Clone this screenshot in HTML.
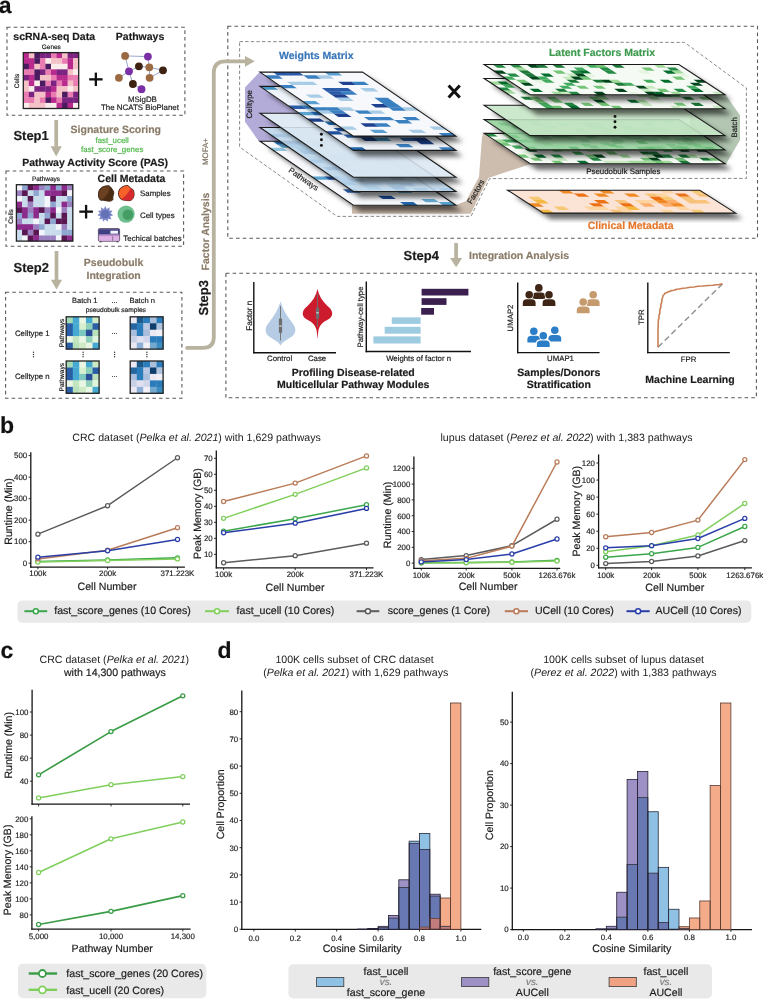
<!DOCTYPE html><html><head><meta charset="utf-8"><style>html,body{margin:0;padding:0;background:#fff;}svg{display:block;will-change:transform;text-rendering:geometricPrecision;}</style></head><body>
<svg width="766" height="999" viewBox="0 0 766 999" font-family='"Liberation Sans", sans-serif'>
<defs><filter id="sh" x="-10%" y="-10%" width="135%" height="150%"><feDropShadow dx="7" dy="6" stdDeviation="2.4" flood-color="#000" flood-opacity="0.6"/></filter><filter id="bl" x="-10%" y="-20%" width="120%" height="140%"><feGaussianBlur stdDeviation="2.4"/></filter></defs>
<rect x="0.00" y="0.00" width="766.00" height="999.00" fill="#ffffff"/>
<text x="-1.30" y="12.90" font-size="23" font-weight="bold" fill="#111" stroke="#111" stroke-width="0.18" text-anchor="start">a</text>
<text x="0.00" y="432.60" font-size="23" font-weight="bold" fill="#111" stroke="#111" stroke-width="0.18" text-anchor="start">b</text>
<text x="0.60" y="657.60" font-size="23" font-weight="bold" fill="#111" stroke="#111" stroke-width="0.18" text-anchor="start">c</text>
<text x="217.50" y="657.60" font-size="23" font-weight="bold" fill="#111" stroke="#111" stroke-width="0.18" text-anchor="start">d</text>
<rect x="7.00" y="27.30" width="177.90" height="88.00" fill="none" stroke="#5a5a5a" stroke-width="1.1" stroke-dasharray="3.6 3.1"/>
<text x="13.30" y="39.60" font-size="10.5" font-weight="bold" fill="#1c1a1a" stroke="#1c1a1a" stroke-width="0.18" text-anchor="start">scRNA-seq Data</text>
<text x="115.80" y="39.60" font-size="10.5" font-weight="bold" fill="#1c1a1a" stroke="#1c1a1a" stroke-width="0.18" text-anchor="start">Pathways</text>
<text x="51.30" y="49.00" font-size="6.5" fill="#1c1a1a" stroke="#1c1a1a" stroke-width="0.18" text-anchor="middle">Genes</text>
<text x="18.80" y="81.00" font-size="6.5" fill="#1c1a1a" stroke="#1c1a1a" stroke-width="0.18" text-anchor="middle" transform="rotate(-90 18.80 81.00)">Cells</text>
<rect x="23.30" y="52.60" width="5.84" height="5.89" fill="#b92a8e"/>
<rect x="28.84" y="52.60" width="5.84" height="5.89" fill="#f4c1c6"/>
<rect x="34.38" y="52.60" width="5.84" height="5.89" fill="#4a1b5f"/>
<rect x="39.92" y="52.60" width="5.84" height="5.89" fill="#7a2381"/>
<rect x="45.46" y="52.60" width="5.84" height="5.89" fill="#7a2381"/>
<rect x="51.00" y="52.60" width="5.84" height="5.89" fill="#e97cb0"/>
<rect x="56.54" y="52.60" width="5.84" height="5.89" fill="#b92a8e"/>
<rect x="62.08" y="52.60" width="5.84" height="5.89" fill="#f4c1c6"/>
<rect x="67.62" y="52.60" width="5.84" height="5.89" fill="#7a2381"/>
<rect x="73.16" y="52.60" width="5.84" height="5.89" fill="#7a2381"/>
<rect x="23.30" y="58.19" width="5.84" height="5.89" fill="#b92a8e"/>
<rect x="28.84" y="58.19" width="5.84" height="5.89" fill="#b92a8e"/>
<rect x="34.38" y="58.19" width="5.84" height="5.89" fill="#4a1b5f"/>
<rect x="39.92" y="58.19" width="5.84" height="5.89" fill="#e97cb0"/>
<rect x="45.46" y="58.19" width="5.84" height="5.89" fill="#fbecec"/>
<rect x="51.00" y="58.19" width="5.84" height="5.89" fill="#f4c1c6"/>
<rect x="56.54" y="58.19" width="5.84" height="5.89" fill="#f4c1c6"/>
<rect x="62.08" y="58.19" width="5.84" height="5.89" fill="#e97cb0"/>
<rect x="67.62" y="58.19" width="5.84" height="5.89" fill="#b92a8e"/>
<rect x="73.16" y="58.19" width="5.84" height="5.89" fill="#f4c1c6"/>
<rect x="23.30" y="63.78" width="5.84" height="5.89" fill="#4a1b5f"/>
<rect x="28.84" y="63.78" width="5.84" height="5.89" fill="#b92a8e"/>
<rect x="34.38" y="63.78" width="5.84" height="5.89" fill="#f4c1c6"/>
<rect x="39.92" y="63.78" width="5.84" height="5.89" fill="#e97cb0"/>
<rect x="45.46" y="63.78" width="5.84" height="5.89" fill="#4a1b5f"/>
<rect x="51.00" y="63.78" width="5.84" height="5.89" fill="#fbecec"/>
<rect x="56.54" y="63.78" width="5.84" height="5.89" fill="#fbecec"/>
<rect x="62.08" y="63.78" width="5.84" height="5.89" fill="#fbecec"/>
<rect x="67.62" y="63.78" width="5.84" height="5.89" fill="#b92a8e"/>
<rect x="73.16" y="63.78" width="5.84" height="5.89" fill="#f4c1c6"/>
<rect x="23.30" y="69.37" width="5.84" height="5.89" fill="#e97cb0"/>
<rect x="28.84" y="69.37" width="5.84" height="5.89" fill="#e97cb0"/>
<rect x="34.38" y="69.37" width="5.84" height="5.89" fill="#4a1b5f"/>
<rect x="39.92" y="69.37" width="5.84" height="5.89" fill="#7a2381"/>
<rect x="45.46" y="69.37" width="5.84" height="5.89" fill="#e97cb0"/>
<rect x="51.00" y="69.37" width="5.84" height="5.89" fill="#b92a8e"/>
<rect x="56.54" y="69.37" width="5.84" height="5.89" fill="#7a2381"/>
<rect x="62.08" y="69.37" width="5.84" height="5.89" fill="#7a2381"/>
<rect x="67.62" y="69.37" width="5.84" height="5.89" fill="#f4c1c6"/>
<rect x="73.16" y="69.37" width="5.84" height="5.89" fill="#fbecec"/>
<rect x="23.30" y="74.96" width="5.84" height="5.89" fill="#7a2381"/>
<rect x="28.84" y="74.96" width="5.84" height="5.89" fill="#b92a8e"/>
<rect x="34.38" y="74.96" width="5.84" height="5.89" fill="#4a1b5f"/>
<rect x="39.92" y="74.96" width="5.84" height="5.89" fill="#f4c1c6"/>
<rect x="45.46" y="74.96" width="5.84" height="5.89" fill="#f4c1c6"/>
<rect x="51.00" y="74.96" width="5.84" height="5.89" fill="#e97cb0"/>
<rect x="56.54" y="74.96" width="5.84" height="5.89" fill="#b92a8e"/>
<rect x="62.08" y="74.96" width="5.84" height="5.89" fill="#b92a8e"/>
<rect x="67.62" y="74.96" width="5.84" height="5.89" fill="#e97cb0"/>
<rect x="73.16" y="74.96" width="5.84" height="5.89" fill="#e97cb0"/>
<rect x="23.30" y="80.55" width="5.84" height="5.89" fill="#f4c1c6"/>
<rect x="28.84" y="80.55" width="5.84" height="5.89" fill="#b92a8e"/>
<rect x="34.38" y="80.55" width="5.84" height="5.89" fill="#fbecec"/>
<rect x="39.92" y="80.55" width="5.84" height="5.89" fill="#4a1b5f"/>
<rect x="45.46" y="80.55" width="5.84" height="5.89" fill="#e97cb0"/>
<rect x="51.00" y="80.55" width="5.84" height="5.89" fill="#7a2381"/>
<rect x="56.54" y="80.55" width="5.84" height="5.89" fill="#e97cb0"/>
<rect x="62.08" y="80.55" width="5.84" height="5.89" fill="#b92a8e"/>
<rect x="67.62" y="80.55" width="5.84" height="5.89" fill="#f4c1c6"/>
<rect x="73.16" y="80.55" width="5.84" height="5.89" fill="#e97cb0"/>
<rect x="23.30" y="86.14" width="5.84" height="5.89" fill="#f4c1c6"/>
<rect x="28.84" y="86.14" width="5.84" height="5.89" fill="#fbecec"/>
<rect x="34.38" y="86.14" width="5.84" height="5.89" fill="#7a2381"/>
<rect x="39.92" y="86.14" width="5.84" height="5.89" fill="#7a2381"/>
<rect x="45.46" y="86.14" width="5.84" height="5.89" fill="#7a2381"/>
<rect x="51.00" y="86.14" width="5.84" height="5.89" fill="#b92a8e"/>
<rect x="56.54" y="86.14" width="5.84" height="5.89" fill="#f4c1c6"/>
<rect x="62.08" y="86.14" width="5.84" height="5.89" fill="#f4c1c6"/>
<rect x="67.62" y="86.14" width="5.84" height="5.89" fill="#fbecec"/>
<rect x="73.16" y="86.14" width="5.84" height="5.89" fill="#f4c1c6"/>
<rect x="23.30" y="91.73" width="5.84" height="5.89" fill="#e97cb0"/>
<rect x="28.84" y="91.73" width="5.84" height="5.89" fill="#7a2381"/>
<rect x="34.38" y="91.73" width="5.84" height="5.89" fill="#f4c1c6"/>
<rect x="39.92" y="91.73" width="5.84" height="5.89" fill="#f4c1c6"/>
<rect x="45.46" y="91.73" width="5.84" height="5.89" fill="#b92a8e"/>
<rect x="51.00" y="91.73" width="5.84" height="5.89" fill="#e97cb0"/>
<rect x="56.54" y="91.73" width="5.84" height="5.89" fill="#f4c1c6"/>
<rect x="62.08" y="91.73" width="5.84" height="5.89" fill="#4a1b5f"/>
<rect x="67.62" y="91.73" width="5.84" height="5.89" fill="#e97cb0"/>
<rect x="73.16" y="91.73" width="5.84" height="5.89" fill="#7a2381"/>
<rect x="23.30" y="97.32" width="5.84" height="5.89" fill="#e97cb0"/>
<rect x="28.84" y="97.32" width="5.84" height="5.89" fill="#e97cb0"/>
<rect x="34.38" y="97.32" width="5.84" height="5.89" fill="#f4c1c6"/>
<rect x="39.92" y="97.32" width="5.84" height="5.89" fill="#e97cb0"/>
<rect x="45.46" y="97.32" width="5.84" height="5.89" fill="#4a1b5f"/>
<rect x="51.00" y="97.32" width="5.84" height="5.89" fill="#b92a8e"/>
<rect x="56.54" y="97.32" width="5.84" height="5.89" fill="#e97cb0"/>
<rect x="62.08" y="97.32" width="5.84" height="5.89" fill="#7a2381"/>
<rect x="67.62" y="97.32" width="5.84" height="5.89" fill="#7a2381"/>
<rect x="73.16" y="97.32" width="5.84" height="5.89" fill="#7a2381"/>
<rect x="23.30" y="102.91" width="5.84" height="5.89" fill="#fbecec"/>
<rect x="28.84" y="102.91" width="5.84" height="5.89" fill="#f4c1c6"/>
<rect x="34.38" y="102.91" width="5.84" height="5.89" fill="#f4c1c6"/>
<rect x="39.92" y="102.91" width="5.84" height="5.89" fill="#f4c1c6"/>
<rect x="45.46" y="102.91" width="5.84" height="5.89" fill="#fbecec"/>
<rect x="51.00" y="102.91" width="5.84" height="5.89" fill="#fbecec"/>
<rect x="56.54" y="102.91" width="5.84" height="5.89" fill="#b92a8e"/>
<rect x="62.08" y="102.91" width="5.84" height="5.89" fill="#4a1b5f"/>
<rect x="67.62" y="102.91" width="5.84" height="5.89" fill="#b92a8e"/>
<rect x="73.16" y="102.91" width="5.84" height="5.89" fill="#fbecec"/>
<rect x="23.30" y="52.60" width="55.40" height="55.90" fill="none" stroke="#222" stroke-width="1.3"/>
<rect x="89.20" y="78.20" width="13.40" height="2.30" fill="#111"/>
<rect x="94.70" y="72.60" width="2.30" height="13.40" fill="#111"/>
<line x1="125.10" y1="55.90" x2="147.90" y2="56.60" stroke="#6f7fb8" stroke-width="0.7"/>
<line x1="125.10" y1="55.90" x2="129.00" y2="71.30" stroke="#6f7fb8" stroke-width="0.7"/>
<line x1="147.90" y1="56.60" x2="149.30" y2="67.30" stroke="#6f7fb8" stroke-width="0.7"/>
<line x1="129.00" y1="71.30" x2="138.90" y2="66.30" stroke="#6f7fb8" stroke-width="0.7"/>
<line x1="138.90" y1="66.30" x2="149.30" y2="67.30" stroke="#6f7fb8" stroke-width="0.7"/>
<line x1="149.30" y1="67.30" x2="163.00" y2="70.30" stroke="#6f7fb8" stroke-width="0.7"/>
<line x1="149.30" y1="67.30" x2="149.60" y2="77.80" stroke="#6f7fb8" stroke-width="0.7"/>
<line x1="149.60" y1="77.80" x2="163.00" y2="70.30" stroke="#6f7fb8" stroke-width="0.7"/>
<line x1="129.00" y1="71.30" x2="118.90" y2="77.80" stroke="#6f7fb8" stroke-width="0.7"/>
<line x1="129.00" y1="71.30" x2="132.90" y2="84.00" stroke="#6f7fb8" stroke-width="0.7"/>
<line x1="132.90" y1="84.00" x2="141.50" y2="89.20" stroke="#6f7fb8" stroke-width="0.7"/>
<circle cx="125.1" cy="55.9" r="3.9" fill="#9c6a42"/>
<circle cx="147.9" cy="56.6" r="3.9" fill="#7b2fa6"/>
<circle cx="138.9" cy="66.3" r="3.9" fill="#3e2212"/>
<circle cx="149.3" cy="67.3" r="3.9" fill="#9c6a42"/>
<circle cx="163.0" cy="70.3" r="3.9" fill="#3e2212"/>
<circle cx="129.0" cy="71.3" r="3.9" fill="#7b2fa6"/>
<circle cx="118.9" cy="77.8" r="3.9" fill="#9c6a42"/>
<circle cx="149.6" cy="77.8" r="3.9" fill="#9c6a42"/>
<circle cx="132.9" cy="84.0" r="3.9" fill="#3e2212"/>
<circle cx="141.5" cy="89.2" r="3.9" fill="#7b2fa6"/>
<text x="142.40" y="101.50" font-size="7.9" fill="#202020" stroke="#202020" stroke-width="0.18" text-anchor="middle">MSigDB</text>
<text x="140.00" y="110.20" font-size="7.9" fill="#202020" stroke="#202020" stroke-width="0.18" text-anchor="middle">The NCATS BioPlanet</text>
<rect x="54.35" y="120.00" width="3.70" height="26.80" fill="#b8b39f"/>
<polygon points="50.60,146.30 61.80,146.30 56.20,156.40" fill="#b8b39f"/>
<text x="13.40" y="139.60" font-size="13" font-weight="bold" fill="#1c1a1a" stroke="#1c1a1a" stroke-width="0.18" text-anchor="start">Step1</text>
<text x="70.60" y="133.10" font-size="10.5" font-weight="bold" fill="#8a7c69" stroke="#8a7c69" stroke-width="0.18" text-anchor="start">Signature Scoring</text>
<text x="112.20" y="143.30" font-size="7.9" fill="#4fb848" stroke="#4fb848" stroke-width="0.18" text-anchor="middle">fast_ucell</text>
<text x="112.20" y="151.90" font-size="7.9" fill="#4fb848" stroke="#4fb848" stroke-width="0.18" text-anchor="middle">fast_score_genes</text>
<text x="22.20" y="166.20" font-size="10.5" font-weight="bold" fill="#1c1a1a" stroke="#1c1a1a" stroke-width="0.18" text-anchor="start">Pathway Activity Score (PAS)</text>
<rect x="6.00" y="171.00" width="177.60" height="75.20" fill="none" stroke="#5a5a5a" stroke-width="1.1" stroke-dasharray="3.6 3.1"/>
<text x="46.00" y="181.30" font-size="6.5" fill="#1c1a1a" stroke="#1c1a1a" stroke-width="0.18" text-anchor="middle">Pathways</text>
<text x="13.40" y="216.40" font-size="6.5" fill="#1c1a1a" stroke="#1c1a1a" stroke-width="0.18" text-anchor="middle" transform="rotate(-90 13.40 216.40)">Cells</text>
<rect x="16.40" y="184.70" width="5.94" height="5.94" fill="#f3f5fa"/>
<rect x="22.04" y="184.70" width="5.94" height="5.94" fill="#8ea6d0"/>
<rect x="27.68" y="184.70" width="5.94" height="5.94" fill="#5a1650"/>
<rect x="33.32" y="184.70" width="5.94" height="5.94" fill="#8c2b8c"/>
<rect x="38.96" y="184.70" width="5.94" height="5.94" fill="#9b80c0"/>
<rect x="44.60" y="184.70" width="5.94" height="5.94" fill="#8ea6d0"/>
<rect x="50.24" y="184.70" width="5.94" height="5.94" fill="#8c2b8c"/>
<rect x="55.88" y="184.70" width="5.94" height="5.94" fill="#8ea6d0"/>
<rect x="61.52" y="184.70" width="5.94" height="5.94" fill="#8c2b8c"/>
<rect x="67.16" y="184.70" width="5.94" height="5.94" fill="#9b80c0"/>
<rect x="16.40" y="190.34" width="5.94" height="5.94" fill="#9b80c0"/>
<rect x="22.04" y="190.34" width="5.94" height="5.94" fill="#5a1650"/>
<rect x="27.68" y="190.34" width="5.94" height="5.94" fill="#c8dcec"/>
<rect x="33.32" y="190.34" width="5.94" height="5.94" fill="#8ea6d0"/>
<rect x="38.96" y="190.34" width="5.94" height="5.94" fill="#c8dcec"/>
<rect x="44.60" y="190.34" width="5.94" height="5.94" fill="#8c2b8c"/>
<rect x="50.24" y="190.34" width="5.94" height="5.94" fill="#8c2b8c"/>
<rect x="55.88" y="190.34" width="5.94" height="5.94" fill="#8c2b8c"/>
<rect x="61.52" y="190.34" width="5.94" height="5.94" fill="#5a1650"/>
<rect x="67.16" y="190.34" width="5.94" height="5.94" fill="#f3f5fa"/>
<rect x="16.40" y="195.98" width="5.94" height="5.94" fill="#f3f5fa"/>
<rect x="22.04" y="195.98" width="5.94" height="5.94" fill="#c8dcec"/>
<rect x="27.68" y="195.98" width="5.94" height="5.94" fill="#5a1650"/>
<rect x="33.32" y="195.98" width="5.94" height="5.94" fill="#c8dcec"/>
<rect x="38.96" y="195.98" width="5.94" height="5.94" fill="#c8dcec"/>
<rect x="44.60" y="195.98" width="5.94" height="5.94" fill="#f3f5fa"/>
<rect x="50.24" y="195.98" width="5.94" height="5.94" fill="#5a1650"/>
<rect x="55.88" y="195.98" width="5.94" height="5.94" fill="#c8dcec"/>
<rect x="61.52" y="195.98" width="5.94" height="5.94" fill="#c8dcec"/>
<rect x="67.16" y="195.98" width="5.94" height="5.94" fill="#8ea6d0"/>
<rect x="16.40" y="201.62" width="5.94" height="5.94" fill="#8c2b8c"/>
<rect x="22.04" y="201.62" width="5.94" height="5.94" fill="#c8dcec"/>
<rect x="27.68" y="201.62" width="5.94" height="5.94" fill="#9b80c0"/>
<rect x="33.32" y="201.62" width="5.94" height="5.94" fill="#c8dcec"/>
<rect x="38.96" y="201.62" width="5.94" height="5.94" fill="#c8dcec"/>
<rect x="44.60" y="201.62" width="5.94" height="5.94" fill="#f3f5fa"/>
<rect x="50.24" y="201.62" width="5.94" height="5.94" fill="#8ea6d0"/>
<rect x="55.88" y="201.62" width="5.94" height="5.94" fill="#c8dcec"/>
<rect x="61.52" y="201.62" width="5.94" height="5.94" fill="#8c2b8c"/>
<rect x="67.16" y="201.62" width="5.94" height="5.94" fill="#9b80c0"/>
<rect x="16.40" y="207.26" width="5.94" height="5.94" fill="#5a1650"/>
<rect x="22.04" y="207.26" width="5.94" height="5.94" fill="#8c2b8c"/>
<rect x="27.68" y="207.26" width="5.94" height="5.94" fill="#9b80c0"/>
<rect x="33.32" y="207.26" width="5.94" height="5.94" fill="#8c2b8c"/>
<rect x="38.96" y="207.26" width="5.94" height="5.94" fill="#5a1650"/>
<rect x="44.60" y="207.26" width="5.94" height="5.94" fill="#9b80c0"/>
<rect x="50.24" y="207.26" width="5.94" height="5.94" fill="#8c2b8c"/>
<rect x="55.88" y="207.26" width="5.94" height="5.94" fill="#f3f5fa"/>
<rect x="61.52" y="207.26" width="5.94" height="5.94" fill="#9b80c0"/>
<rect x="67.16" y="207.26" width="5.94" height="5.94" fill="#c8dcec"/>
<rect x="16.40" y="212.90" width="5.94" height="5.94" fill="#8ea6d0"/>
<rect x="22.04" y="212.90" width="5.94" height="5.94" fill="#8c2b8c"/>
<rect x="27.68" y="212.90" width="5.94" height="5.94" fill="#8ea6d0"/>
<rect x="33.32" y="212.90" width="5.94" height="5.94" fill="#8c2b8c"/>
<rect x="38.96" y="212.90" width="5.94" height="5.94" fill="#c8dcec"/>
<rect x="44.60" y="212.90" width="5.94" height="5.94" fill="#8ea6d0"/>
<rect x="50.24" y="212.90" width="5.94" height="5.94" fill="#5a1650"/>
<rect x="55.88" y="212.90" width="5.94" height="5.94" fill="#c8dcec"/>
<rect x="61.52" y="212.90" width="5.94" height="5.94" fill="#5a1650"/>
<rect x="67.16" y="212.90" width="5.94" height="5.94" fill="#c8dcec"/>
<rect x="16.40" y="218.54" width="5.94" height="5.94" fill="#9b80c0"/>
<rect x="22.04" y="218.54" width="5.94" height="5.94" fill="#c8dcec"/>
<rect x="27.68" y="218.54" width="5.94" height="5.94" fill="#c8dcec"/>
<rect x="33.32" y="218.54" width="5.94" height="5.94" fill="#f3f5fa"/>
<rect x="38.96" y="218.54" width="5.94" height="5.94" fill="#c8dcec"/>
<rect x="44.60" y="218.54" width="5.94" height="5.94" fill="#5a1650"/>
<rect x="50.24" y="218.54" width="5.94" height="5.94" fill="#8ea6d0"/>
<rect x="55.88" y="218.54" width="5.94" height="5.94" fill="#5a1650"/>
<rect x="61.52" y="218.54" width="5.94" height="5.94" fill="#5a1650"/>
<rect x="67.16" y="218.54" width="5.94" height="5.94" fill="#c8dcec"/>
<rect x="16.40" y="224.18" width="5.94" height="5.94" fill="#8c2b8c"/>
<rect x="22.04" y="224.18" width="5.94" height="5.94" fill="#8c2b8c"/>
<rect x="27.68" y="224.18" width="5.94" height="5.94" fill="#8c2b8c"/>
<rect x="33.32" y="224.18" width="5.94" height="5.94" fill="#9b80c0"/>
<rect x="38.96" y="224.18" width="5.94" height="5.94" fill="#8ea6d0"/>
<rect x="44.60" y="224.18" width="5.94" height="5.94" fill="#c8dcec"/>
<rect x="50.24" y="224.18" width="5.94" height="5.94" fill="#c8dcec"/>
<rect x="55.88" y="224.18" width="5.94" height="5.94" fill="#f3f5fa"/>
<rect x="61.52" y="224.18" width="5.94" height="5.94" fill="#9b80c0"/>
<rect x="67.16" y="224.18" width="5.94" height="5.94" fill="#c8dcec"/>
<rect x="16.40" y="229.82" width="5.94" height="5.94" fill="#c8dcec"/>
<rect x="22.04" y="229.82" width="5.94" height="5.94" fill="#5a1650"/>
<rect x="27.68" y="229.82" width="5.94" height="5.94" fill="#9b80c0"/>
<rect x="33.32" y="229.82" width="5.94" height="5.94" fill="#5a1650"/>
<rect x="38.96" y="229.82" width="5.94" height="5.94" fill="#f3f5fa"/>
<rect x="44.60" y="229.82" width="5.94" height="5.94" fill="#c8dcec"/>
<rect x="50.24" y="229.82" width="5.94" height="5.94" fill="#c8dcec"/>
<rect x="55.88" y="229.82" width="5.94" height="5.94" fill="#c8dcec"/>
<rect x="61.52" y="229.82" width="5.94" height="5.94" fill="#8ea6d0"/>
<rect x="67.16" y="229.82" width="5.94" height="5.94" fill="#8ea6d0"/>
<rect x="16.40" y="235.46" width="5.94" height="5.94" fill="#c8dcec"/>
<rect x="22.04" y="235.46" width="5.94" height="5.94" fill="#f3f5fa"/>
<rect x="27.68" y="235.46" width="5.94" height="5.94" fill="#5a1650"/>
<rect x="33.32" y="235.46" width="5.94" height="5.94" fill="#8c2b8c"/>
<rect x="38.96" y="235.46" width="5.94" height="5.94" fill="#9b80c0"/>
<rect x="44.60" y="235.46" width="5.94" height="5.94" fill="#9b80c0"/>
<rect x="50.24" y="235.46" width="5.94" height="5.94" fill="#9b80c0"/>
<rect x="55.88" y="235.46" width="5.94" height="5.94" fill="#f3f5fa"/>
<rect x="61.52" y="235.46" width="5.94" height="5.94" fill="#5a1650"/>
<rect x="67.16" y="235.46" width="5.94" height="5.94" fill="#8c2b8c"/>
<rect x="16.40" y="184.70" width="56.40" height="56.40" fill="none" stroke="#222" stroke-width="1.3"/>
<rect x="79.30" y="210.50" width="13.60" height="2.30" fill="#111"/>
<rect x="84.95" y="204.90" width="2.30" height="13.60" fill="#111"/>
<text x="97.60" y="181.50" font-size="10.5" font-weight="bold" fill="#1c1a1a" stroke="#1c1a1a" stroke-width="0.18" text-anchor="start">Cell Metadata</text>
<path d="M103.80,186.50 C105.07,186.20 107.63,185.32 109.10,185.90 C110.57,186.48 111.82,188.92 112.60,190.00 C113.38,191.08 113.75,191.32 113.80,192.40 C113.85,193.48 113.10,195.23 112.90,196.50 C112.70,197.77 113.23,199.22 112.60,200.00 C111.97,200.78 110.57,201.15 109.10,201.20 C107.63,201.25 105.27,200.50 103.80,200.30 C102.33,200.10 101.18,200.73 100.30,200.00 C99.42,199.27 98.70,197.47 98.50,195.90 C98.30,194.33 98.60,191.97 99.10,190.60 C99.60,189.23 100.72,188.38 101.50,187.70 C102.28,187.02 102.53,186.80 103.80,186.50 Z" fill="#6a4020" stroke="#2e1b0d" stroke-width="0.9"/>
<path d="M109.5,186.6 C112,188.5 113.6,191.5 113.2,195 C112.8,198.5 111.5,200.6 108.5,200.9 C105.5,200.8 103.5,200 102,199.2 C106.5,197 109.8,192 109.5,186.6 Z" fill="#4a2c14"/>
<path d="M120.30,188.30 C121.28,187.22 123.13,186.35 124.40,185.90 C125.67,185.45 126.83,185.20 127.90,185.60 C128.97,186.00 129.92,187.57 130.80,188.30 C131.68,189.03 132.65,188.92 133.20,190.00 C133.75,191.08 134.20,193.32 134.10,194.80 C134.00,196.28 133.33,197.93 132.60,198.90 C131.87,199.87 130.87,200.37 129.70,200.60 C128.53,200.83 126.98,200.48 125.60,200.30 C124.22,200.12 122.48,200.13 121.40,199.50 C120.32,198.87 119.58,197.68 119.10,196.50 C118.62,195.32 118.30,193.77 118.50,192.40 C118.70,191.03 119.32,189.38 120.30,188.30 Z" fill="#f4622a" stroke="#3a1a12" stroke-width="0.9"/>
<path d="M130.5,188 C132.8,189.6 134.2,192 134,195 C133.6,198.5 131.5,200.4 128.5,200.6 C125.5,200.5 123,200 121.3,199.3 C124.5,196.5 128.5,193.5 130.5,188 Z" fill="#d42a30"/>
<text x="140.00" y="195.50" font-size="7.9" fill="#202020" stroke="#202020" stroke-width="0.18" text-anchor="start">Samples</text>
<polygon points="105.30,206.00 106.82,208.92 109.68,207.29 109.38,210.56 112.67,210.74 110.65,213.33 113.32,215.25 110.21,216.34 111.42,219.40 108.22,218.64 107.58,221.87 105.30,219.50 103.02,221.87 102.38,218.64 99.18,219.40 100.39,216.34 97.28,215.25 99.95,213.33 97.93,210.74 101.22,210.56 100.92,207.29 103.78,208.92" fill="#7f88c9"/>
<circle cx="105.3" cy="214.3" r="4.3" fill="#6473b8"/>
<circle cx="126.1" cy="214.1" r="8.6" fill="#6fbf8e"/>
<circle cx="127.9" cy="214.7" r="5.3" fill="#449e64"/>
<text x="140.00" y="217.60" font-size="7.9" fill="#202020" stroke="#202020" stroke-width="0.18" text-anchor="start">Cell types</text>
<rect x="98.4" y="228.6" width="21.2" height="12.6" rx="1.2" fill="#d6a6de" stroke="#3c3646" stroke-width="0.8"/>
<rect x="98.80" y="229.20" width="20.40" height="5.40" fill="#3d3f85"/>
<rect x="110.40" y="230.70" width="7.60" height="3.00" fill="#f4f4f8"/>
<rect x="98.80" y="234.60" width="20.40" height="1.50" fill="#b98fc6"/>
<rect x="98.80" y="236.40" width="20.40" height="4.40" fill="#ddb0e6"/>
<line x1="112.60" y1="236.40" x2="112.60" y2="240.80" stroke="#5a4a66" stroke-width="0.6"/>
<rect x="99.60" y="241.00" width="2.00" height="1.40" fill="#555"/>
<rect x="116.60" y="241.00" width="2.00" height="1.40" fill="#555"/>
<text x="123.30" y="240.50" font-size="7.9" fill="#202020" stroke="#202020" stroke-width="0.18" text-anchor="start">Techical batches</text>
<rect x="54.65" y="251.00" width="3.70" height="29.30" fill="#b8b39f"/>
<polygon points="50.90,279.80 62.10,279.80 56.50,289.60" fill="#b8b39f"/>
<text x="13.60" y="272.40" font-size="13" font-weight="bold" fill="#1c1a1a" stroke="#1c1a1a" stroke-width="0.18" text-anchor="start">Step2</text>
<text x="113.60" y="266.40" font-size="10.5" font-weight="bold" fill="#8a7c69" stroke="#8a7c69" stroke-width="0.18" text-anchor="middle">Pseudobulk</text>
<text x="113.60" y="279.30" font-size="10.5" font-weight="bold" fill="#8a7c69" stroke="#8a7c69" stroke-width="0.18" text-anchor="middle">Integration</text>
<rect x="5.60" y="292.30" width="176.30" height="105.90" fill="none" stroke="#5a5a5a" stroke-width="1.1" stroke-dasharray="3.6 3.1"/>
<text x="84.70" y="302.60" font-size="7.5" fill="#1c1a1a" stroke="#1c1a1a" stroke-width="0.18" text-anchor="middle">Batch 1</text>
<text x="114.60" y="302.60" font-size="7.5" fill="#1c1a1a" stroke="#1c1a1a" stroke-width="0.18" text-anchor="middle">...</text>
<text x="142.10" y="302.60" font-size="7.5" fill="#1c1a1a" stroke="#1c1a1a" stroke-width="0.18" text-anchor="middle">Batch n</text>
<text x="115.80" y="311.50" font-size="6.6" fill="#1c1a1a" stroke="#1c1a1a" stroke-width="0.18" text-anchor="middle">pseudobulk samples</text>
<text x="32.30" y="336.00" font-size="7.8" fill="#1c1a1a" stroke="#1c1a1a" stroke-width="0.18" text-anchor="middle">Celltype 1</text>
<text x="32.30" y="379.20" font-size="7.8" fill="#1c1a1a" stroke="#1c1a1a" stroke-width="0.18" text-anchor="middle">Celltype n</text>
<rect x="66.20" y="316.80" width="6.88" height="6.76" fill="#a6dcb5"/>
<rect x="72.78" y="316.80" width="6.88" height="6.76" fill="#46a9d1"/>
<rect x="79.36" y="316.80" width="6.88" height="6.76" fill="#eaf6e4"/>
<rect x="85.94" y="316.80" width="6.88" height="6.76" fill="#46a9d1"/>
<rect x="92.52" y="316.80" width="6.88" height="6.76" fill="#cfebc6"/>
<rect x="66.20" y="323.26" width="6.88" height="6.76" fill="#2a5fa8"/>
<rect x="72.78" y="323.26" width="6.88" height="6.76" fill="#46a9d1"/>
<rect x="79.36" y="323.26" width="6.88" height="6.76" fill="#d8efd0"/>
<rect x="85.94" y="323.26" width="6.88" height="6.76" fill="#8ed0b8"/>
<rect x="92.52" y="323.26" width="6.88" height="6.76" fill="#2a5fa8"/>
<rect x="66.20" y="329.72" width="6.88" height="6.76" fill="#2a5fa8"/>
<rect x="72.78" y="329.72" width="6.88" height="6.76" fill="#46a9d1"/>
<rect x="79.36" y="329.72" width="6.88" height="6.76" fill="#7cc8c0"/>
<rect x="85.94" y="329.72" width="6.88" height="6.76" fill="#2a4d99"/>
<rect x="92.52" y="329.72" width="6.88" height="6.76" fill="#b9e2bc"/>
<rect x="66.20" y="336.18" width="6.88" height="6.76" fill="#eaf6e4"/>
<rect x="72.78" y="336.18" width="6.88" height="6.76" fill="#c2e6c0"/>
<rect x="79.36" y="336.18" width="6.88" height="6.76" fill="#eaf6e4"/>
<rect x="85.94" y="336.18" width="6.88" height="6.76" fill="#8ed0b8"/>
<rect x="92.52" y="336.18" width="6.88" height="6.76" fill="#e0f3db"/>
<rect x="66.20" y="342.64" width="6.88" height="6.76" fill="#2a5fa8"/>
<rect x="72.78" y="342.64" width="6.88" height="6.76" fill="#b9e2bc"/>
<rect x="79.36" y="342.64" width="6.88" height="6.76" fill="#cfebc6"/>
<rect x="85.94" y="342.64" width="6.88" height="6.76" fill="#eaf6e4"/>
<rect x="92.52" y="342.64" width="6.88" height="6.76" fill="#46a9d1"/>
<rect x="66.20" y="316.80" width="32.90" height="32.30" fill="none" stroke="#222" stroke-width="1.3"/>
<rect x="130.20" y="316.80" width="6.88" height="6.76" fill="#ece8f3"/>
<rect x="136.78" y="316.80" width="6.88" height="6.76" fill="#1d5a8c"/>
<rect x="143.36" y="316.80" width="6.88" height="6.76" fill="#2b7cbb"/>
<rect x="149.94" y="316.80" width="6.88" height="6.76" fill="#a9bedc"/>
<rect x="156.52" y="316.80" width="6.88" height="6.76" fill="#2b7cbb"/>
<rect x="130.20" y="323.26" width="6.88" height="6.76" fill="#2566a1"/>
<rect x="136.78" y="323.26" width="6.88" height="6.76" fill="#2b7cbb"/>
<rect x="143.36" y="323.26" width="6.88" height="6.76" fill="#b8c8e2"/>
<rect x="149.94" y="323.26" width="6.88" height="6.76" fill="#0f3e6c"/>
<rect x="156.52" y="323.26" width="6.88" height="6.76" fill="#b0c4de"/>
<rect x="130.20" y="329.72" width="6.88" height="6.76" fill="#a9bedc"/>
<rect x="136.78" y="329.72" width="6.88" height="6.76" fill="#2b7cbb"/>
<rect x="143.36" y="329.72" width="6.88" height="6.76" fill="#a9bedc"/>
<rect x="149.94" y="329.72" width="6.88" height="6.76" fill="#ece8f3"/>
<rect x="156.52" y="329.72" width="6.88" height="6.76" fill="#f2f0f7"/>
<rect x="130.20" y="336.18" width="6.88" height="6.76" fill="#c8d0e6"/>
<rect x="136.78" y="336.18" width="6.88" height="6.76" fill="#e0e0f0"/>
<rect x="143.36" y="336.18" width="6.88" height="6.76" fill="#d0d5ea"/>
<rect x="149.94" y="336.18" width="6.88" height="6.76" fill="#2b7cbb"/>
<rect x="156.52" y="336.18" width="6.88" height="6.76" fill="#2b7cbb"/>
<rect x="130.20" y="342.64" width="6.88" height="6.76" fill="#ece8f3"/>
<rect x="136.78" y="342.64" width="6.88" height="6.76" fill="#8eb0d6"/>
<rect x="143.36" y="342.64" width="6.88" height="6.76" fill="#f2f0f7"/>
<rect x="149.94" y="342.64" width="6.88" height="6.76" fill="#74a9cf"/>
<rect x="156.52" y="342.64" width="6.88" height="6.76" fill="#3a8cc1"/>
<rect x="130.20" y="316.80" width="32.90" height="32.30" fill="none" stroke="#222" stroke-width="1.3"/>
<text x="64.00" y="333.00" font-size="6.6" fill="#1c1a1a" stroke="#1c1a1a" stroke-width="0.18" text-anchor="middle" transform="rotate(-90 64.00 333.00)">Pathways</text>
<rect x="66.20" y="361.00" width="6.88" height="6.76" fill="#a6dcb5"/>
<rect x="72.78" y="361.00" width="6.88" height="6.76" fill="#46a9d1"/>
<rect x="79.36" y="361.00" width="6.88" height="6.76" fill="#eaf6e4"/>
<rect x="85.94" y="361.00" width="6.88" height="6.76" fill="#46a9d1"/>
<rect x="92.52" y="361.00" width="6.88" height="6.76" fill="#cfebc6"/>
<rect x="66.20" y="367.46" width="6.88" height="6.76" fill="#2a5fa8"/>
<rect x="72.78" y="367.46" width="6.88" height="6.76" fill="#46a9d1"/>
<rect x="79.36" y="367.46" width="6.88" height="6.76" fill="#d8efd0"/>
<rect x="85.94" y="367.46" width="6.88" height="6.76" fill="#8ed0b8"/>
<rect x="92.52" y="367.46" width="6.88" height="6.76" fill="#2a5fa8"/>
<rect x="66.20" y="373.92" width="6.88" height="6.76" fill="#2a5fa8"/>
<rect x="72.78" y="373.92" width="6.88" height="6.76" fill="#46a9d1"/>
<rect x="79.36" y="373.92" width="6.88" height="6.76" fill="#7cc8c0"/>
<rect x="85.94" y="373.92" width="6.88" height="6.76" fill="#2a4d99"/>
<rect x="92.52" y="373.92" width="6.88" height="6.76" fill="#b9e2bc"/>
<rect x="66.20" y="380.38" width="6.88" height="6.76" fill="#eaf6e4"/>
<rect x="72.78" y="380.38" width="6.88" height="6.76" fill="#c2e6c0"/>
<rect x="79.36" y="380.38" width="6.88" height="6.76" fill="#eaf6e4"/>
<rect x="85.94" y="380.38" width="6.88" height="6.76" fill="#8ed0b8"/>
<rect x="92.52" y="380.38" width="6.88" height="6.76" fill="#e0f3db"/>
<rect x="66.20" y="386.84" width="6.88" height="6.76" fill="#2a5fa8"/>
<rect x="72.78" y="386.84" width="6.88" height="6.76" fill="#b9e2bc"/>
<rect x="79.36" y="386.84" width="6.88" height="6.76" fill="#cfebc6"/>
<rect x="85.94" y="386.84" width="6.88" height="6.76" fill="#eaf6e4"/>
<rect x="92.52" y="386.84" width="6.88" height="6.76" fill="#46a9d1"/>
<rect x="66.20" y="361.00" width="32.90" height="32.30" fill="none" stroke="#222" stroke-width="1.3"/>
<rect x="130.20" y="361.00" width="6.88" height="6.76" fill="#ece8f3"/>
<rect x="136.78" y="361.00" width="6.88" height="6.76" fill="#1d5a8c"/>
<rect x="143.36" y="361.00" width="6.88" height="6.76" fill="#2b7cbb"/>
<rect x="149.94" y="361.00" width="6.88" height="6.76" fill="#a9bedc"/>
<rect x="156.52" y="361.00" width="6.88" height="6.76" fill="#2b7cbb"/>
<rect x="130.20" y="367.46" width="6.88" height="6.76" fill="#2566a1"/>
<rect x="136.78" y="367.46" width="6.88" height="6.76" fill="#2b7cbb"/>
<rect x="143.36" y="367.46" width="6.88" height="6.76" fill="#b8c8e2"/>
<rect x="149.94" y="367.46" width="6.88" height="6.76" fill="#0f3e6c"/>
<rect x="156.52" y="367.46" width="6.88" height="6.76" fill="#b0c4de"/>
<rect x="130.20" y="373.92" width="6.88" height="6.76" fill="#a9bedc"/>
<rect x="136.78" y="373.92" width="6.88" height="6.76" fill="#2b7cbb"/>
<rect x="143.36" y="373.92" width="6.88" height="6.76" fill="#a9bedc"/>
<rect x="149.94" y="373.92" width="6.88" height="6.76" fill="#ece8f3"/>
<rect x="156.52" y="373.92" width="6.88" height="6.76" fill="#f2f0f7"/>
<rect x="130.20" y="380.38" width="6.88" height="6.76" fill="#c8d0e6"/>
<rect x="136.78" y="380.38" width="6.88" height="6.76" fill="#e0e0f0"/>
<rect x="143.36" y="380.38" width="6.88" height="6.76" fill="#d0d5ea"/>
<rect x="149.94" y="380.38" width="6.88" height="6.76" fill="#2b7cbb"/>
<rect x="156.52" y="380.38" width="6.88" height="6.76" fill="#2b7cbb"/>
<rect x="130.20" y="386.84" width="6.88" height="6.76" fill="#ece8f3"/>
<rect x="136.78" y="386.84" width="6.88" height="6.76" fill="#8eb0d6"/>
<rect x="143.36" y="386.84" width="6.88" height="6.76" fill="#f2f0f7"/>
<rect x="149.94" y="386.84" width="6.88" height="6.76" fill="#74a9cf"/>
<rect x="156.52" y="386.84" width="6.88" height="6.76" fill="#3a8cc1"/>
<rect x="130.20" y="361.00" width="32.90" height="32.30" fill="none" stroke="#222" stroke-width="1.3"/>
<text x="64.00" y="377.20" font-size="6.6" fill="#1c1a1a" stroke="#1c1a1a" stroke-width="0.18" text-anchor="middle" transform="rotate(-90 64.00 377.20)">Pathways</text>
<text x="114.60" y="333.80" font-size="7.5" fill="#1c1a1a" stroke="#1c1a1a" stroke-width="0.18" text-anchor="middle">...</text>
<text x="114.60" y="376.50" font-size="7.5" fill="#1c1a1a" stroke="#1c1a1a" stroke-width="0.18" text-anchor="middle">...</text>
<circle cx="33.5" cy="352.30" r="0.7" fill="#333"/>
<circle cx="33.5" cy="354.50" r="0.7" fill="#333"/>
<circle cx="33.5" cy="356.70" r="0.7" fill="#333"/>
<circle cx="83.1" cy="352.30" r="0.7" fill="#333"/>
<circle cx="83.1" cy="354.50" r="0.7" fill="#333"/>
<circle cx="83.1" cy="356.70" r="0.7" fill="#333"/>
<circle cx="114.6" cy="352.30" r="0.7" fill="#333"/>
<circle cx="114.6" cy="354.50" r="0.7" fill="#333"/>
<circle cx="114.6" cy="356.70" r="0.7" fill="#333"/>
<circle cx="146.9" cy="352.30" r="0.7" fill="#333"/>
<circle cx="146.9" cy="354.50" r="0.7" fill="#333"/>
<circle cx="146.9" cy="356.70" r="0.7" fill="#333"/>
<text x="208.30" y="151.50" font-size="7.9" fill="#7a6e60" stroke="#7a6e60" stroke-width="0.18" text-anchor="middle" transform="rotate(-90 208.30 151.50)">MOFA+</text>
<text x="208.50" y="231.50" font-size="10.5" font-weight="bold" fill="#8a7c69" stroke="#8a7c69" stroke-width="0.18" text-anchor="middle" transform="rotate(-90 208.50 231.50)">Factor Analysis</text>
<text x="208.40" y="297.70" font-size="13" font-weight="bold" fill="#1c1a1a" stroke="#1c1a1a" stroke-width="0.18" text-anchor="middle" transform="rotate(-90 208.40 297.70)">Step3</text>
<rect x="227.80" y="26.30" width="529.70" height="212.00" fill="none" stroke="#5a5a5a" stroke-width="1.1" stroke-dasharray="3.6 3.1"/>
<polygon points="239.6,41.6 684.5,42.4 746.4,88.0 746.4,178.4 489.6,178.6 471.0,216.3 337.2,216.4 239.6,147.0" fill="none" stroke="#7c7c7c" stroke-width="0.9" stroke-dasharray="3.4 2.2"/>
<path d="M187.1,347.9 L202.9,347.9 Q213.8,347.9 213.8,337 L213.8,72.9 Q213.8,61.4 225.3,61.4 L246,61.4" fill="none" stroke="#b8b39f" stroke-width="3.8" stroke-linecap="round"/>
<polygon points="245.00,55.90 254.80,61.30 245.00,66.70" fill="#b8b39f"/>
<text x="316.30" y="58.60" font-size="10.5" font-weight="bold" fill="#3775b8" stroke="#3775b8" stroke-width="0.18" text-anchor="middle">Weights Matrix</text>
<text x="602.00" y="56.30" font-size="10.5" font-weight="bold" fill="#3c9a4e" stroke="#3c9a4e" stroke-width="0.18" text-anchor="middle">Latent Factors Matrix</text>
<text x="630.60" y="228.80" font-size="10.5" font-weight="bold" fill="#e5772c" stroke="#e5772c" stroke-width="0.18" text-anchor="middle">Clinical Metadata</text>
<polygon points="259.50,72.10 280.60,86.40 260.10,86.40 299.40,113.20 261.50,113.20 282.60,127.50 260.70,127.50 281.00,141.30 258.80,141.30 245.00,121.70 245.00,87.40" fill="#b3acd9"/>
<text x="252.30" y="104.30" font-size="7.9" fill="#202020" stroke="#202020" stroke-width="0.18" text-anchor="middle" transform="rotate(-90 252.30 104.30)">Celltype</text>
<polygon points="483.10,133.50 530.00,164.20 488.30,177.90 470.70,213.80 352.00,213.80 352.00,205.30 455.70,205.30 466.00,201.00 479.00,177.00 482.00,137.00" fill="#cdbdae"/>
<text x="478.20" y="193.00" font-size="7.9" fill="#202020" stroke="#202020" stroke-width="0.18" text-anchor="middle" transform="rotate(-60 478.20 193.00)">Factors</text>
<polygon points="690.00,95.00 725.70,95.00 740.00,115.30 740.00,140.00 725.70,164.60 690.00,164.60" fill="#b2c6b2"/>
<text x="737.40" y="127.30" font-size="7.9" fill="#202020" stroke="#202020" stroke-width="0.18" text-anchor="middle" transform="rotate(-90 737.40 127.30)">Batch</text>
<polygon points="260.00,141.30 362.50,141.30 455.90,205.30 353.40,205.30" fill="#f6f8fc" filter="url(#sh)"/>
<g transform="matrix(12.8125,0,4.6700,3.2000,260.00,141.30)">
<rect x="1" y="0" width="1.04" height="1.04" fill="#2166ac"/>
<rect x="2" y="0" width="1.04" height="1.04" fill="#1c3f8a"/>
<rect x="3" y="0" width="1.04" height="1.04" fill="#5ba3d0"/>
<rect x="4" y="0" width="1.04" height="1.04" fill="#1c3f8a"/>
<rect x="6" y="0" width="1.04" height="1.04" fill="#bcd7ea"/>
<rect x="7" y="0" width="1.04" height="1.04" fill="#4393c3"/>
<rect x="1" y="1" width="1.04" height="1.04" fill="#5ba3d0"/>
<rect x="2" y="1" width="1.04" height="1.04" fill="#6baed6"/>
<rect x="5" y="1" width="1.04" height="1.04" fill="#5ba3d0"/>
<rect x="0" y="2" width="1.04" height="1.04" fill="#92c5de"/>
<rect x="2" y="2" width="1.04" height="1.04" fill="#4393c3"/>
<rect x="6" y="2" width="1.04" height="1.04" fill="#5ba3d0"/>
<rect x="2" y="3" width="1.04" height="1.04" fill="#2166ac"/>
<rect x="3" y="4" width="1.04" height="1.04" fill="#6baed6"/>
<rect x="4" y="4" width="1.04" height="1.04" fill="#1f4e9c"/>
<rect x="2" y="5" width="1.04" height="1.04" fill="#bcd7ea"/>
<rect x="3" y="5" width="1.04" height="1.04" fill="#3b7fc0"/>
<rect x="4" y="5" width="1.04" height="1.04" fill="#2c5ea8"/>
<rect x="7" y="5" width="1.04" height="1.04" fill="#1c3f8a"/>
<rect x="3" y="7" width="1.04" height="1.04" fill="#1f4e9c"/>
<rect x="2" y="8" width="1.04" height="1.04" fill="#2c5ea8"/>
<rect x="4" y="9" width="1.04" height="1.04" fill="#bcd7ea"/>
<rect x="6" y="10" width="1.04" height="1.04" fill="#92c5de"/>
<rect x="7" y="10" width="1.04" height="1.04" fill="#6baed6"/>
<rect x="0" y="11" width="1.04" height="1.04" fill="#5ba3d0"/>
<rect x="1" y="11" width="1.04" height="1.04" fill="#1f4e9c"/>
<rect x="2" y="11" width="1.04" height="1.04" fill="#bcd7ea"/>
<rect x="6" y="11" width="1.04" height="1.04" fill="#1c3f8a"/>
<rect x="3" y="13" width="1.04" height="1.04" fill="#6baed6"/>
<rect x="5" y="13" width="1.04" height="1.04" fill="#5ba3d0"/>
<rect x="6" y="13" width="1.04" height="1.04" fill="#2166ac"/>
<rect x="3" y="14" width="1.04" height="1.04" fill="#6baed6"/>
<rect x="5" y="14" width="1.04" height="1.04" fill="#1f4e9c"/>
<rect x="1" y="15" width="1.04" height="1.04" fill="#2c5ea8"/>
<rect x="5" y="15" width="1.04" height="1.04" fill="#4393c3"/>
<rect x="3" y="17" width="1.04" height="1.04" fill="#1f4e9c"/>
<rect x="6" y="18" width="1.04" height="1.04" fill="#6baed6"/>
<rect x="4" y="19" width="1.04" height="1.04" fill="#2166ac"/>
<rect x="7" y="19" width="1.04" height="1.04" fill="#5ba3d0"/>
</g>
<polygon points="260.00,141.30 362.50,141.30 455.90,205.30 353.40,205.30" fill="none" stroke="#1a1a1a" stroke-width="1.1" stroke-linejoin="miter"/>
<mask id="mw1" maskUnits="userSpaceOnUse" x="0" y="0" width="766" height="400"><rect x="0" y="0" width="766" height="400" fill="#fff"/><polygon points="260.00,127.50 362.50,127.50 455.90,191.50 353.40,191.50" fill="#000"/></mask>
<g mask="url(#mw1)"><polygon points="260.00,127.50 362.50,127.50 455.90,191.50 353.40,191.50" fill="#000" fill-opacity="0.6" transform="translate(7 6)" filter="url(#bl)"/></g>
<polygon points="260.00,127.50 362.50,127.50 455.90,191.50 353.40,191.50" fill="#bdd6eb" fill-opacity="0.88"/>
<g transform="matrix(12.8125,0,4.6700,3.2000,260.00,127.50)">
<rect x="0" y="2" width="1.04" height="1.04" fill="#a8c8e3"/>
<rect x="1" y="2" width="1.04" height="1.04" fill="#b5d2ea"/>
<rect x="2" y="5" width="1.04" height="1.04" fill="#a8c8e3"/>
<rect x="3" y="8" width="1.04" height="1.04" fill="#b5d2ea"/>
<rect x="3" y="9" width="1.04" height="1.04" fill="#a8c8e3"/>
<rect x="7" y="9" width="1.04" height="1.04" fill="#a8c8e3"/>
<rect x="0" y="10" width="1.04" height="1.04" fill="#aecde6"/>
<rect x="2" y="13" width="1.04" height="1.04" fill="#aecde6"/>
<rect x="7" y="14" width="1.04" height="1.04" fill="#b5d2ea"/>
<rect x="0" y="16" width="1.04" height="1.04" fill="#b5d2ea"/>
<rect x="1" y="16" width="1.04" height="1.04" fill="#a8c8e3"/>
<rect x="0" y="17" width="1.04" height="1.04" fill="#aecde6"/>
<rect x="2" y="17" width="1.04" height="1.04" fill="#b5d2ea"/>
<rect x="5" y="19" width="1.04" height="1.04" fill="#aecde6"/>
<rect x="7" y="19" width="1.04" height="1.04" fill="#aecde6"/>
</g>
<polygon points="260.00,127.50 362.50,127.50 455.90,191.50 353.40,191.50" fill="none" stroke="#1a1a1a" stroke-width="1.1" stroke-linejoin="miter"/>
<mask id="mw2" maskUnits="userSpaceOnUse" x="0" y="0" width="766" height="400"><rect x="0" y="0" width="766" height="400" fill="#fff"/><polygon points="260.00,113.20 362.50,113.20 455.90,177.20 353.40,177.20" fill="#000"/></mask>
<g mask="url(#mw2)"><polygon points="260.00,113.20 362.50,113.20 455.90,177.20 353.40,177.20" fill="#000" fill-opacity="0.6" transform="translate(7 6)" filter="url(#bl)"/></g>
<polygon points="260.00,113.20 362.50,113.20 455.90,177.20 353.40,177.20" fill="#dbe7f3" fill-opacity="0.88"/>
<g transform="matrix(12.8125,0,4.6700,3.2000,260.00,113.20)">
</g>
<polygon points="260.00,113.20 362.50,113.20 455.90,177.20 353.40,177.20" fill="none" stroke="#1a1a1a" stroke-width="1.1" stroke-linejoin="miter"/>
<polygon points="260.00,86.40 362.50,86.40 455.90,150.40 353.40,150.40" fill="#eef3f9" filter="url(#sh)"/>
<g transform="matrix(12.8125,0,4.6700,3.2000,260.00,86.40)">
<rect x="0" y="0" width="1.04" height="1.04" fill="#4393c3"/>
<rect x="6" y="0" width="1.04" height="1.04" fill="#1c3f8a"/>
<rect x="3" y="1" width="1.04" height="1.04" fill="#1f4e9c"/>
<rect x="4" y="2" width="1.04" height="1.04" fill="#2166ac"/>
<rect x="7" y="2" width="1.04" height="1.04" fill="#2c5ea8"/>
<rect x="3" y="4" width="1.04" height="1.04" fill="#92c5de"/>
<rect x="6" y="4" width="1.04" height="1.04" fill="#92c5de"/>
<rect x="7" y="4" width="1.04" height="1.04" fill="#1f4e9c"/>
<rect x="1" y="5" width="1.04" height="1.04" fill="#bcd7ea"/>
<rect x="0" y="6" width="1.04" height="1.04" fill="#2c5ea8"/>
<rect x="1" y="6" width="1.04" height="1.04" fill="#3b7fc0"/>
<rect x="1" y="7" width="1.04" height="1.04" fill="#bcd7ea"/>
<rect x="2" y="7" width="1.04" height="1.04" fill="#1f4e9c"/>
<rect x="6" y="7" width="1.04" height="1.04" fill="#1f4e9c"/>
<rect x="0" y="8" width="1.04" height="1.04" fill="#5ba3d0"/>
<rect x="1" y="8" width="1.04" height="1.04" fill="#2166ac"/>
<rect x="4" y="8" width="1.04" height="1.04" fill="#1c3f8a"/>
<rect x="6" y="8" width="1.04" height="1.04" fill="#5ba3d0"/>
<rect x="2" y="9" width="1.04" height="1.04" fill="#5ba3d0"/>
<rect x="4" y="9" width="1.04" height="1.04" fill="#1c3f8a"/>
<rect x="0" y="10" width="1.04" height="1.04" fill="#1c3f8a"/>
<rect x="4" y="10" width="1.04" height="1.04" fill="#5ba3d0"/>
<rect x="1" y="11" width="1.04" height="1.04" fill="#2166ac"/>
<rect x="2" y="11" width="1.04" height="1.04" fill="#3b7fc0"/>
<rect x="6" y="11" width="1.04" height="1.04" fill="#2166ac"/>
<rect x="2" y="12" width="1.04" height="1.04" fill="#4393c3"/>
<rect x="7" y="12" width="1.04" height="1.04" fill="#2c5ea8"/>
<rect x="1" y="13" width="1.04" height="1.04" fill="#1f4e9c"/>
<rect x="0" y="14" width="1.04" height="1.04" fill="#1f4e9c"/>
<rect x="4" y="14" width="1.04" height="1.04" fill="#92c5de"/>
<rect x="1" y="15" width="1.04" height="1.04" fill="#2c5ea8"/>
<rect x="2" y="15" width="1.04" height="1.04" fill="#1f4e9c"/>
<rect x="4" y="15" width="1.04" height="1.04" fill="#6baed6"/>
<rect x="2" y="16" width="1.04" height="1.04" fill="#1c3f8a"/>
<rect x="3" y="16" width="1.04" height="1.04" fill="#4393c3"/>
<rect x="5" y="16" width="1.04" height="1.04" fill="#2c5ea8"/>
<rect x="6" y="16" width="1.04" height="1.04" fill="#1c3f8a"/>
<rect x="6" y="17" width="1.04" height="1.04" fill="#1c3f8a"/>
<rect x="4" y="18" width="1.04" height="1.04" fill="#3b7fc0"/>
<rect x="0" y="19" width="1.04" height="1.04" fill="#2166ac"/>
<rect x="7" y="19" width="1.04" height="1.04" fill="#3b7fc0"/>
</g>
<polygon points="260.00,86.40 362.50,86.40 455.90,150.40 353.40,150.40" fill="none" stroke="#1a1a1a" stroke-width="1.1" stroke-linejoin="miter"/>
<polygon points="260.00,72.10 362.50,72.10 455.90,136.10 353.40,136.10" fill="#f6f8fc" filter="url(#sh)"/>
<g transform="matrix(12.8125,0,4.6700,3.2000,260.00,72.10)">
<rect x="1" y="0" width="1.04" height="1.04" fill="#2a5aa8"/>
<rect x="2" y="0" width="1.04" height="1.04" fill="#2a5aa8"/>
<rect x="5" y="0" width="1.04" height="1.04" fill="#5aa0d0"/>
<rect x="0" y="1" width="1.04" height="1.04" fill="#3a80c0"/>
<rect x="3" y="1" width="1.04" height="1.04" fill="#3a80c0"/>
<rect x="4" y="1" width="1.04" height="1.04" fill="#a8cce6"/>
<rect x="1" y="3" width="1.04" height="1.04" fill="#a8cce6"/>
<rect x="2" y="3" width="1.04" height="1.04" fill="#a8cce6"/>
<rect x="5" y="3" width="1.04" height="1.04" fill="#1f3f8f"/>
<rect x="6" y="3" width="1.04" height="1.04" fill="#3a80c0"/>
<rect x="0" y="4" width="1.04" height="1.04" fill="#3a80c0"/>
<rect x="3" y="5" width="1.04" height="1.04" fill="#2a5aa8"/>
<rect x="4" y="5" width="1.04" height="1.04" fill="#2a5aa8"/>
<rect x="6" y="5" width="1.04" height="1.04" fill="#a8cce6"/>
<rect x="3" y="6" width="1.04" height="1.04" fill="#2a5aa8"/>
<rect x="4" y="6" width="1.04" height="1.04" fill="#3a80c0"/>
<rect x="3" y="7" width="1.04" height="1.04" fill="#1f3f8f"/>
<rect x="3" y="8" width="1.04" height="1.04" fill="#a8cce6"/>
<rect x="6" y="8" width="1.04" height="1.04" fill="#3a80c0"/>
<rect x="6" y="9" width="1.04" height="1.04" fill="#3a80c0"/>
<rect x="5" y="10" width="1.04" height="1.04" fill="#1f3f8f"/>
<rect x="6" y="10" width="1.04" height="1.04" fill="#3a80c0"/>
<rect x="6" y="11" width="1.04" height="1.04" fill="#3a80c0"/>
<rect x="7" y="11" width="1.04" height="1.04" fill="#a8cce6"/>
<rect x="0" y="11" width="1.04" height="1.04" fill="#3a80c0"/>
<rect x="1" y="11" width="1.04" height="1.04" fill="#3a80c0"/>
<rect x="2" y="11" width="1.04" height="1.04" fill="#a8cce6"/>
<rect x="0" y="12" width="1.04" height="1.04" fill="#a8cce6"/>
<rect x="1" y="12" width="1.04" height="1.04" fill="#3a80c0"/>
<rect x="3" y="12" width="1.04" height="1.04" fill="#3a80c0"/>
<rect x="4" y="12" width="1.04" height="1.04" fill="#a8cce6"/>
<rect x="1" y="13" width="1.04" height="1.04" fill="#1f3f8f"/>
<rect x="3" y="14" width="1.04" height="1.04" fill="#3a80c0"/>
<rect x="4" y="14" width="1.04" height="1.04" fill="#3a80c0"/>
<rect x="6" y="14" width="1.04" height="1.04" fill="#3a80c0"/>
<rect x="5" y="15" width="1.04" height="1.04" fill="#3a80c0"/>
<rect x="2" y="16" width="1.04" height="1.04" fill="#1f3f8f"/>
<rect x="3" y="16" width="1.04" height="1.04" fill="#3a80c0"/>
<rect x="0" y="17" width="1.04" height="1.04" fill="#a8cce6"/>
<rect x="7" y="17" width="1.04" height="1.04" fill="#a8cce6"/>
<rect x="2" y="18" width="1.04" height="1.04" fill="#5aa0d0"/>
<rect x="5" y="18" width="1.04" height="1.04" fill="#a8cce6"/>
<rect x="7" y="19" width="1.04" height="1.04" fill="#3a80c0"/>
<rect x="0" y="9" width="1.04" height="1.04" fill="#5aa0d0"/>
<rect x="1" y="7" width="1.04" height="1.04" fill="#a8cce6"/>
</g>
<polygon points="260.00,72.10 362.50,72.10 455.90,136.10 353.40,136.10" fill="none" stroke="#1a1a1a" stroke-width="1.1" stroke-linejoin="miter"/>
<circle cx="321.4" cy="134.2" r="1.45" fill="#111"/>
<circle cx="321.4" cy="139.8" r="1.45" fill="#111"/>
<circle cx="321.4" cy="145.4" r="1.45" fill="#111"/>
<line x1="448.60" y1="85.40" x2="459.80" y2="97.60" stroke="#111" stroke-width="3.0"/>
<line x1="459.80" y1="85.40" x2="448.60" y2="97.60" stroke="#111" stroke-width="3.0"/>
<polygon points="484.10,133.40 678.90,133.40 725.00,163.70 530.20,163.70" fill="#f6faf5" filter="url(#sh)"/>
<g transform="matrix(8.4696,0,4.6100,3.0300,484.10,133.40)">
<rect x="0" y="0" width="1.04" height="1.04" fill="#238b45"/>
<rect x="2" y="0" width="1.04" height="1.04" fill="#a1d99b"/>
<rect x="5" y="0" width="1.04" height="1.04" fill="#238b45"/>
<rect x="6" y="0" width="1.04" height="1.04" fill="#74c476"/>
<rect x="9" y="0" width="1.04" height="1.04" fill="#74c476"/>
<rect x="12" y="0" width="1.04" height="1.04" fill="#00441b"/>
<rect x="14" y="0" width="1.04" height="1.04" fill="#41ab5d"/>
<rect x="15" y="0" width="1.04" height="1.04" fill="#c7e9c0"/>
<rect x="17" y="0" width="1.04" height="1.04" fill="#238b45"/>
<rect x="20" y="0" width="1.04" height="1.04" fill="#74c476"/>
<rect x="2" y="1" width="1.04" height="1.04" fill="#74c476"/>
<rect x="6" y="1" width="1.04" height="1.04" fill="#00441b"/>
<rect x="9" y="1" width="1.04" height="1.04" fill="#74c476"/>
<rect x="10" y="1" width="1.04" height="1.04" fill="#c7e9c0"/>
<rect x="11" y="1" width="1.04" height="1.04" fill="#c7e9c0"/>
<rect x="13" y="1" width="1.04" height="1.04" fill="#e5f5e0"/>
<rect x="16" y="1" width="1.04" height="1.04" fill="#41ab5d"/>
<rect x="17" y="1" width="1.04" height="1.04" fill="#006d2c"/>
<rect x="20" y="1" width="1.04" height="1.04" fill="#238b45"/>
<rect x="0" y="2" width="1.04" height="1.04" fill="#a1d99b"/>
<rect x="1" y="2" width="1.04" height="1.04" fill="#41ab5d"/>
<rect x="2" y="2" width="1.04" height="1.04" fill="#1b7837"/>
<rect x="3" y="2" width="1.04" height="1.04" fill="#238b45"/>
<rect x="4" y="2" width="1.04" height="1.04" fill="#a1d99b"/>
<rect x="10" y="2" width="1.04" height="1.04" fill="#238b45"/>
<rect x="14" y="2" width="1.04" height="1.04" fill="#006d2c"/>
<rect x="18" y="2" width="1.04" height="1.04" fill="#a1d99b"/>
<rect x="22" y="2" width="1.04" height="1.04" fill="#00441b"/>
<rect x="0" y="3" width="1.04" height="1.04" fill="#74c476"/>
<rect x="5" y="3" width="1.04" height="1.04" fill="#74c476"/>
<rect x="12" y="3" width="1.04" height="1.04" fill="#41ab5d"/>
<rect x="21" y="3" width="1.04" height="1.04" fill="#41ab5d"/>
<rect x="22" y="3" width="1.04" height="1.04" fill="#00441b"/>
<rect x="1" y="4" width="1.04" height="1.04" fill="#41ab5d"/>
<rect x="6" y="4" width="1.04" height="1.04" fill="#c7e9c0"/>
<rect x="10" y="4" width="1.04" height="1.04" fill="#00441b"/>
<rect x="11" y="4" width="1.04" height="1.04" fill="#c7e9c0"/>
<rect x="13" y="4" width="1.04" height="1.04" fill="#238b45"/>
<rect x="17" y="4" width="1.04" height="1.04" fill="#a1d99b"/>
<rect x="18" y="4" width="1.04" height="1.04" fill="#74c476"/>
<rect x="20" y="4" width="1.04" height="1.04" fill="#00441b"/>
<rect x="21" y="4" width="1.04" height="1.04" fill="#74c476"/>
<rect x="22" y="4" width="1.04" height="1.04" fill="#a1d99b"/>
<rect x="2" y="5" width="1.04" height="1.04" fill="#00441b"/>
<rect x="5" y="5" width="1.04" height="1.04" fill="#74c476"/>
<rect x="6" y="5" width="1.04" height="1.04" fill="#c7e9c0"/>
<rect x="9" y="5" width="1.04" height="1.04" fill="#a1d99b"/>
<rect x="10" y="5" width="1.04" height="1.04" fill="#a1d99b"/>
<rect x="11" y="5" width="1.04" height="1.04" fill="#a1d99b"/>
<rect x="12" y="5" width="1.04" height="1.04" fill="#c7e9c0"/>
<rect x="13" y="5" width="1.04" height="1.04" fill="#e5f5e0"/>
<rect x="18" y="5" width="1.04" height="1.04" fill="#41ab5d"/>
<rect x="20" y="5" width="1.04" height="1.04" fill="#00441b"/>
<rect x="22" y="5" width="1.04" height="1.04" fill="#00441b"/>
<rect x="1" y="6" width="1.04" height="1.04" fill="#e5f5e0"/>
<rect x="7" y="6" width="1.04" height="1.04" fill="#41ab5d"/>
<rect x="11" y="6" width="1.04" height="1.04" fill="#74c476"/>
<rect x="15" y="6" width="1.04" height="1.04" fill="#1b7837"/>
<rect x="16" y="6" width="1.04" height="1.04" fill="#238b45"/>
<rect x="0" y="7" width="1.04" height="1.04" fill="#74c476"/>
<rect x="1" y="7" width="1.04" height="1.04" fill="#e5f5e0"/>
<rect x="2" y="7" width="1.04" height="1.04" fill="#006d2c"/>
<rect x="4" y="7" width="1.04" height="1.04" fill="#238b45"/>
<rect x="8" y="7" width="1.04" height="1.04" fill="#74c476"/>
<rect x="9" y="7" width="1.04" height="1.04" fill="#00441b"/>
<rect x="12" y="7" width="1.04" height="1.04" fill="#a1d99b"/>
<rect x="15" y="7" width="1.04" height="1.04" fill="#c7e9c0"/>
<rect x="16" y="7" width="1.04" height="1.04" fill="#00441b"/>
<rect x="17" y="7" width="1.04" height="1.04" fill="#238b45"/>
<rect x="19" y="7" width="1.04" height="1.04" fill="#1b7837"/>
<rect x="20" y="7" width="1.04" height="1.04" fill="#a1d99b"/>
<rect x="21" y="7" width="1.04" height="1.04" fill="#e5f5e0"/>
<rect x="1" y="8" width="1.04" height="1.04" fill="#74c476"/>
<rect x="3" y="8" width="1.04" height="1.04" fill="#e5f5e0"/>
<rect x="4" y="8" width="1.04" height="1.04" fill="#c7e9c0"/>
<rect x="8" y="8" width="1.04" height="1.04" fill="#238b45"/>
<rect x="14" y="8" width="1.04" height="1.04" fill="#74c476"/>
<rect x="15" y="8" width="1.04" height="1.04" fill="#00441b"/>
<rect x="18" y="8" width="1.04" height="1.04" fill="#74c476"/>
<rect x="21" y="8" width="1.04" height="1.04" fill="#1b7837"/>
<rect x="22" y="8" width="1.04" height="1.04" fill="#74c476"/>
<rect x="3" y="9" width="1.04" height="1.04" fill="#74c476"/>
<rect x="6" y="9" width="1.04" height="1.04" fill="#006d2c"/>
<rect x="9" y="9" width="1.04" height="1.04" fill="#c7e9c0"/>
<rect x="10" y="9" width="1.04" height="1.04" fill="#c7e9c0"/>
<rect x="11" y="9" width="1.04" height="1.04" fill="#c7e9c0"/>
<rect x="12" y="9" width="1.04" height="1.04" fill="#a1d99b"/>
<rect x="13" y="9" width="1.04" height="1.04" fill="#a1d99b"/>
<rect x="14" y="9" width="1.04" height="1.04" fill="#a1d99b"/>
<rect x="15" y="9" width="1.04" height="1.04" fill="#74c476"/>
<rect x="16" y="9" width="1.04" height="1.04" fill="#a1d99b"/>
<rect x="18" y="9" width="1.04" height="1.04" fill="#1b7837"/>
<rect x="21" y="9" width="1.04" height="1.04" fill="#e5f5e0"/>
</g>
<polygon points="484.10,133.40 678.90,133.40 725.00,163.70 530.20,163.70" fill="none" stroke="#1a1a1a" stroke-width="1.1" stroke-linejoin="miter"/>
<mask id="mg1" maskUnits="userSpaceOnUse" x="0" y="0" width="766" height="400"><rect x="0" y="0" width="766" height="400" fill="#fff"/><polygon points="484.10,119.60 678.90,119.60 725.00,149.90 530.20,149.90" fill="#000"/></mask>
<g mask="url(#mg1)"><polygon points="484.10,119.60 678.90,119.60 725.00,149.90 530.20,149.90" fill="#000" fill-opacity="0.6" transform="translate(7 6)" filter="url(#bl)"/></g>
<polygon points="484.10,119.60 678.90,119.60 725.00,149.90 530.20,149.90" fill="#93d09c" fill-opacity="0.88"/>
<g transform="matrix(8.4696,0,4.6100,3.0300,484.10,119.60)">
<rect x="5" y="0" width="1.04" height="1.04" fill="#6fbd7c"/>
<rect x="15" y="0" width="1.04" height="1.04" fill="#6fbd7c"/>
<rect x="18" y="0" width="1.04" height="1.04" fill="#86c990"/>
<rect x="19" y="0" width="1.04" height="1.04" fill="#7cc487"/>
<rect x="21" y="0" width="1.04" height="1.04" fill="#6fbd7c"/>
<rect x="1" y="1" width="1.04" height="1.04" fill="#86c990"/>
<rect x="5" y="1" width="1.04" height="1.04" fill="#7cc487"/>
<rect x="8" y="1" width="1.04" height="1.04" fill="#7cc487"/>
<rect x="11" y="1" width="1.04" height="1.04" fill="#6fbd7c"/>
<rect x="12" y="1" width="1.04" height="1.04" fill="#7cc487"/>
<rect x="18" y="1" width="1.04" height="1.04" fill="#6fbd7c"/>
<rect x="2" y="2" width="1.04" height="1.04" fill="#6fbd7c"/>
<rect x="6" y="2" width="1.04" height="1.04" fill="#7cc487"/>
<rect x="11" y="2" width="1.04" height="1.04" fill="#7cc487"/>
<rect x="12" y="2" width="1.04" height="1.04" fill="#7cc487"/>
<rect x="15" y="2" width="1.04" height="1.04" fill="#6fbd7c"/>
<rect x="18" y="2" width="1.04" height="1.04" fill="#86c990"/>
<rect x="22" y="2" width="1.04" height="1.04" fill="#86c990"/>
<rect x="5" y="3" width="1.04" height="1.04" fill="#86c990"/>
<rect x="9" y="3" width="1.04" height="1.04" fill="#6fbd7c"/>
<rect x="12" y="3" width="1.04" height="1.04" fill="#7cc487"/>
<rect x="15" y="3" width="1.04" height="1.04" fill="#86c990"/>
<rect x="16" y="3" width="1.04" height="1.04" fill="#7cc487"/>
<rect x="17" y="3" width="1.04" height="1.04" fill="#6fbd7c"/>
<rect x="18" y="3" width="1.04" height="1.04" fill="#86c990"/>
<rect x="19" y="3" width="1.04" height="1.04" fill="#7cc487"/>
<rect x="22" y="3" width="1.04" height="1.04" fill="#6fbd7c"/>
<rect x="14" y="4" width="1.04" height="1.04" fill="#7cc487"/>
<rect x="21" y="4" width="1.04" height="1.04" fill="#86c990"/>
<rect x="0" y="5" width="1.04" height="1.04" fill="#86c990"/>
<rect x="2" y="5" width="1.04" height="1.04" fill="#86c990"/>
<rect x="5" y="5" width="1.04" height="1.04" fill="#7cc487"/>
<rect x="6" y="5" width="1.04" height="1.04" fill="#6fbd7c"/>
<rect x="9" y="5" width="1.04" height="1.04" fill="#6fbd7c"/>
<rect x="13" y="5" width="1.04" height="1.04" fill="#7cc487"/>
<rect x="17" y="5" width="1.04" height="1.04" fill="#86c990"/>
<rect x="15" y="6" width="1.04" height="1.04" fill="#86c990"/>
<rect x="16" y="6" width="1.04" height="1.04" fill="#86c990"/>
<rect x="19" y="6" width="1.04" height="1.04" fill="#86c990"/>
<rect x="20" y="6" width="1.04" height="1.04" fill="#6fbd7c"/>
<rect x="21" y="6" width="1.04" height="1.04" fill="#86c990"/>
<rect x="11" y="7" width="1.04" height="1.04" fill="#86c990"/>
<rect x="14" y="7" width="1.04" height="1.04" fill="#6fbd7c"/>
<rect x="7" y="8" width="1.04" height="1.04" fill="#86c990"/>
<rect x="10" y="8" width="1.04" height="1.04" fill="#7cc487"/>
<rect x="17" y="8" width="1.04" height="1.04" fill="#86c990"/>
<rect x="20" y="8" width="1.04" height="1.04" fill="#7cc487"/>
<rect x="0" y="9" width="1.04" height="1.04" fill="#7cc487"/>
<rect x="5" y="9" width="1.04" height="1.04" fill="#6fbd7c"/>
<rect x="13" y="9" width="1.04" height="1.04" fill="#7cc487"/>
<rect x="14" y="9" width="1.04" height="1.04" fill="#6fbd7c"/>
<rect x="15" y="9" width="1.04" height="1.04" fill="#7cc487"/>
<rect x="17" y="9" width="1.04" height="1.04" fill="#7cc487"/>
<rect x="18" y="9" width="1.04" height="1.04" fill="#6fbd7c"/>
<rect x="20" y="9" width="1.04" height="1.04" fill="#86c990"/>
<rect x="21" y="9" width="1.04" height="1.04" fill="#6fbd7c"/>
</g>
<polygon points="484.10,119.60 678.90,119.60 725.00,149.90 530.20,149.90" fill="none" stroke="#1a1a1a" stroke-width="1.1" stroke-linejoin="miter"/>
<mask id="mg2" maskUnits="userSpaceOnUse" x="0" y="0" width="766" height="400"><rect x="0" y="0" width="766" height="400" fill="#fff"/><polygon points="484.10,105.30 678.90,105.30 725.00,135.60 530.20,135.60" fill="#000"/></mask>
<g mask="url(#mg2)"><polygon points="484.10,105.30 678.90,105.30 725.00,135.60 530.20,135.60" fill="#000" fill-opacity="0.6" transform="translate(7 6)" filter="url(#bl)"/></g>
<polygon points="484.10,105.30 678.90,105.30 725.00,135.60 530.20,135.60" fill="#c6e6c6" fill-opacity="0.88"/>
<g transform="matrix(8.4696,0,4.6100,3.0300,484.10,105.30)">
</g>
<polygon points="484.10,105.30 678.90,105.30 725.00,135.60 530.20,135.60" fill="none" stroke="#1a1a1a" stroke-width="1.1" stroke-linejoin="miter"/>
<polygon points="484.10,78.50 678.90,78.50 725.00,108.80 530.20,108.80" fill="#f6faf5" filter="url(#sh)"/>
<g transform="matrix(8.4696,0,4.6100,3.0300,484.10,78.50)">
<rect x="4" y="0" width="1.04" height="1.04" fill="#00441b"/>
<rect x="9" y="0" width="1.04" height="1.04" fill="#74c476"/>
<rect x="14" y="0" width="1.04" height="1.04" fill="#1b7837"/>
<rect x="15" y="0" width="1.04" height="1.04" fill="#00441b"/>
<rect x="16" y="0" width="1.04" height="1.04" fill="#c7e9c0"/>
<rect x="18" y="0" width="1.04" height="1.04" fill="#006d2c"/>
<rect x="0" y="1" width="1.04" height="1.04" fill="#a1d99b"/>
<rect x="1" y="1" width="1.04" height="1.04" fill="#006d2c"/>
<rect x="2" y="1" width="1.04" height="1.04" fill="#c7e9c0"/>
<rect x="5" y="1" width="1.04" height="1.04" fill="#41ab5d"/>
<rect x="7" y="1" width="1.04" height="1.04" fill="#74c476"/>
<rect x="8" y="1" width="1.04" height="1.04" fill="#a1d99b"/>
<rect x="9" y="1" width="1.04" height="1.04" fill="#006d2c"/>
<rect x="17" y="1" width="1.04" height="1.04" fill="#a1d99b"/>
<rect x="21" y="1" width="1.04" height="1.04" fill="#00441b"/>
<rect x="22" y="1" width="1.04" height="1.04" fill="#1b7837"/>
<rect x="1" y="2" width="1.04" height="1.04" fill="#41ab5d"/>
<rect x="3" y="2" width="1.04" height="1.04" fill="#41ab5d"/>
<rect x="8" y="2" width="1.04" height="1.04" fill="#238b45"/>
<rect x="9" y="2" width="1.04" height="1.04" fill="#006d2c"/>
<rect x="11" y="2" width="1.04" height="1.04" fill="#74c476"/>
<rect x="12" y="2" width="1.04" height="1.04" fill="#a1d99b"/>
<rect x="13" y="2" width="1.04" height="1.04" fill="#00441b"/>
<rect x="14" y="2" width="1.04" height="1.04" fill="#1b7837"/>
<rect x="17" y="2" width="1.04" height="1.04" fill="#1b7837"/>
<rect x="18" y="2" width="1.04" height="1.04" fill="#a1d99b"/>
<rect x="19" y="2" width="1.04" height="1.04" fill="#238b45"/>
<rect x="21" y="2" width="1.04" height="1.04" fill="#c7e9c0"/>
<rect x="0" y="3" width="1.04" height="1.04" fill="#238b45"/>
<rect x="5" y="3" width="1.04" height="1.04" fill="#00441b"/>
<rect x="7" y="3" width="1.04" height="1.04" fill="#006d2c"/>
<rect x="9" y="3" width="1.04" height="1.04" fill="#00441b"/>
<rect x="11" y="3" width="1.04" height="1.04" fill="#1b7837"/>
<rect x="13" y="3" width="1.04" height="1.04" fill="#74c476"/>
<rect x="14" y="3" width="1.04" height="1.04" fill="#a1d99b"/>
<rect x="15" y="3" width="1.04" height="1.04" fill="#00441b"/>
<rect x="16" y="3" width="1.04" height="1.04" fill="#e5f5e0"/>
<rect x="17" y="3" width="1.04" height="1.04" fill="#41ab5d"/>
<rect x="0" y="4" width="1.04" height="1.04" fill="#a1d99b"/>
<rect x="2" y="4" width="1.04" height="1.04" fill="#41ab5d"/>
<rect x="3" y="4" width="1.04" height="1.04" fill="#1b7837"/>
<rect x="7" y="4" width="1.04" height="1.04" fill="#238b45"/>
<rect x="8" y="4" width="1.04" height="1.04" fill="#74c476"/>
<rect x="14" y="4" width="1.04" height="1.04" fill="#c7e9c0"/>
<rect x="15" y="4" width="1.04" height="1.04" fill="#006d2c"/>
<rect x="17" y="4" width="1.04" height="1.04" fill="#a1d99b"/>
<rect x="19" y="4" width="1.04" height="1.04" fill="#00441b"/>
<rect x="20" y="4" width="1.04" height="1.04" fill="#238b45"/>
<rect x="2" y="5" width="1.04" height="1.04" fill="#e5f5e0"/>
<rect x="6" y="5" width="1.04" height="1.04" fill="#e5f5e0"/>
<rect x="10" y="5" width="1.04" height="1.04" fill="#41ab5d"/>
<rect x="15" y="5" width="1.04" height="1.04" fill="#a1d99b"/>
<rect x="16" y="5" width="1.04" height="1.04" fill="#a1d99b"/>
<rect x="17" y="5" width="1.04" height="1.04" fill="#1b7837"/>
<rect x="18" y="5" width="1.04" height="1.04" fill="#1b7837"/>
<rect x="19" y="5" width="1.04" height="1.04" fill="#41ab5d"/>
<rect x="1" y="6" width="1.04" height="1.04" fill="#1b7837"/>
<rect x="2" y="6" width="1.04" height="1.04" fill="#74c476"/>
<rect x="4" y="6" width="1.04" height="1.04" fill="#74c476"/>
<rect x="9" y="6" width="1.04" height="1.04" fill="#74c476"/>
<rect x="10" y="6" width="1.04" height="1.04" fill="#a1d99b"/>
<rect x="16" y="6" width="1.04" height="1.04" fill="#a1d99b"/>
<rect x="20" y="6" width="1.04" height="1.04" fill="#1b7837"/>
<rect x="22" y="6" width="1.04" height="1.04" fill="#74c476"/>
<rect x="2" y="7" width="1.04" height="1.04" fill="#74c476"/>
<rect x="4" y="7" width="1.04" height="1.04" fill="#74c476"/>
<rect x="9" y="7" width="1.04" height="1.04" fill="#00441b"/>
<rect x="13" y="7" width="1.04" height="1.04" fill="#006d2c"/>
<rect x="14" y="7" width="1.04" height="1.04" fill="#a1d99b"/>
<rect x="16" y="7" width="1.04" height="1.04" fill="#e5f5e0"/>
<rect x="2" y="8" width="1.04" height="1.04" fill="#41ab5d"/>
<rect x="5" y="8" width="1.04" height="1.04" fill="#238b45"/>
<rect x="7" y="8" width="1.04" height="1.04" fill="#74c476"/>
<rect x="9" y="8" width="1.04" height="1.04" fill="#74c476"/>
<rect x="14" y="8" width="1.04" height="1.04" fill="#c7e9c0"/>
<rect x="18" y="8" width="1.04" height="1.04" fill="#74c476"/>
<rect x="20" y="8" width="1.04" height="1.04" fill="#1b7837"/>
<rect x="2" y="9" width="1.04" height="1.04" fill="#41ab5d"/>
<rect x="3" y="9" width="1.04" height="1.04" fill="#74c476"/>
<rect x="5" y="9" width="1.04" height="1.04" fill="#006d2c"/>
<rect x="10" y="9" width="1.04" height="1.04" fill="#74c476"/>
<rect x="17" y="9" width="1.04" height="1.04" fill="#c7e9c0"/>
<rect x="18" y="9" width="1.04" height="1.04" fill="#e5f5e0"/>
<rect x="22" y="9" width="1.04" height="1.04" fill="#c7e9c0"/>
</g>
<polygon points="484.10,78.50 678.90,78.50 725.00,108.80 530.20,108.80" fill="none" stroke="#1a1a1a" stroke-width="1.1" stroke-linejoin="miter"/>
<polygon points="484.10,64.50 678.90,64.50 725.00,94.80 530.20,94.80" fill="#f6faf5" filter="url(#sh)"/>
<g transform="matrix(8.4696,0,4.6100,3.0300,484.10,64.50)">
<rect x="1" y="0" width="1.04" height="1.04" fill="#238b45"/>
<rect x="3" y="0" width="1.04" height="1.04" fill="#238b45"/>
<rect x="5" y="0" width="1.04" height="1.04" fill="#00441b"/>
<rect x="6" y="0" width="1.04" height="1.04" fill="#1b7837"/>
<rect x="8" y="0" width="1.04" height="1.04" fill="#1b7837"/>
<rect x="11" y="0" width="1.04" height="1.04" fill="#e5f5e0"/>
<rect x="12" y="0" width="1.04" height="1.04" fill="#41ab5d"/>
<rect x="13" y="0" width="1.04" height="1.04" fill="#74c476"/>
<rect x="15" y="0" width="1.04" height="1.04" fill="#1b7837"/>
<rect x="20" y="0" width="1.04" height="1.04" fill="#a1d99b"/>
<rect x="3" y="1" width="1.04" height="1.04" fill="#a1d99b"/>
<rect x="10" y="1" width="1.04" height="1.04" fill="#41ab5d"/>
<rect x="13" y="1" width="1.04" height="1.04" fill="#238b45"/>
<rect x="18" y="1" width="1.04" height="1.04" fill="#74c476"/>
<rect x="21" y="1" width="1.04" height="1.04" fill="#238b45"/>
<rect x="0" y="2" width="1.04" height="1.04" fill="#00441b"/>
<rect x="3" y="2" width="1.04" height="1.04" fill="#1b7837"/>
<rect x="7" y="2" width="1.04" height="1.04" fill="#74c476"/>
<rect x="9" y="2" width="1.04" height="1.04" fill="#238b45"/>
<rect x="10" y="2" width="1.04" height="1.04" fill="#006d2c"/>
<rect x="13" y="2" width="1.04" height="1.04" fill="#238b45"/>
<rect x="17" y="2" width="1.04" height="1.04" fill="#e5f5e0"/>
<rect x="20" y="2" width="1.04" height="1.04" fill="#006d2c"/>
<rect x="21" y="2" width="1.04" height="1.04" fill="#a1d99b"/>
<rect x="1" y="3" width="1.04" height="1.04" fill="#238b45"/>
<rect x="3" y="3" width="1.04" height="1.04" fill="#1b7837"/>
<rect x="5" y="3" width="1.04" height="1.04" fill="#006d2c"/>
<rect x="8" y="3" width="1.04" height="1.04" fill="#c7e9c0"/>
<rect x="9" y="3" width="1.04" height="1.04" fill="#00441b"/>
<rect x="10" y="3" width="1.04" height="1.04" fill="#e5f5e0"/>
<rect x="21" y="3" width="1.04" height="1.04" fill="#e5f5e0"/>
<rect x="0" y="4" width="1.04" height="1.04" fill="#41ab5d"/>
<rect x="3" y="4" width="1.04" height="1.04" fill="#00441b"/>
<rect x="4" y="4" width="1.04" height="1.04" fill="#41ab5d"/>
<rect x="7" y="4" width="1.04" height="1.04" fill="#c7e9c0"/>
<rect x="8" y="4" width="1.04" height="1.04" fill="#00441b"/>
<rect x="9" y="4" width="1.04" height="1.04" fill="#74c476"/>
<rect x="20" y="4" width="1.04" height="1.04" fill="#74c476"/>
<rect x="1" y="5" width="1.04" height="1.04" fill="#74c476"/>
<rect x="3" y="5" width="1.04" height="1.04" fill="#e5f5e0"/>
<rect x="4" y="5" width="1.04" height="1.04" fill="#41ab5d"/>
<rect x="7" y="5" width="1.04" height="1.04" fill="#1b7837"/>
<rect x="10" y="5" width="1.04" height="1.04" fill="#1b7837"/>
<rect x="11" y="5" width="1.04" height="1.04" fill="#00441b"/>
<rect x="12" y="5" width="1.04" height="1.04" fill="#a1d99b"/>
<rect x="16" y="5" width="1.04" height="1.04" fill="#41ab5d"/>
<rect x="18" y="5" width="1.04" height="1.04" fill="#006d2c"/>
<rect x="22" y="5" width="1.04" height="1.04" fill="#00441b"/>
<rect x="1" y="6" width="1.04" height="1.04" fill="#00441b"/>
<rect x="6" y="6" width="1.04" height="1.04" fill="#41ab5d"/>
<rect x="10" y="6" width="1.04" height="1.04" fill="#e5f5e0"/>
<rect x="12" y="6" width="1.04" height="1.04" fill="#1b7837"/>
<rect x="13" y="6" width="1.04" height="1.04" fill="#41ab5d"/>
<rect x="21" y="6" width="1.04" height="1.04" fill="#00441b"/>
<rect x="5" y="7" width="1.04" height="1.04" fill="#41ab5d"/>
<rect x="7" y="7" width="1.04" height="1.04" fill="#74c476"/>
<rect x="9" y="7" width="1.04" height="1.04" fill="#74c476"/>
<rect x="14" y="7" width="1.04" height="1.04" fill="#00441b"/>
<rect x="15" y="7" width="1.04" height="1.04" fill="#c7e9c0"/>
<rect x="20" y="7" width="1.04" height="1.04" fill="#41ab5d"/>
<rect x="1" y="8" width="1.04" height="1.04" fill="#006d2c"/>
<rect x="4" y="8" width="1.04" height="1.04" fill="#1b7837"/>
<rect x="11" y="8" width="1.04" height="1.04" fill="#00441b"/>
<rect x="14" y="8" width="1.04" height="1.04" fill="#c7e9c0"/>
<rect x="16" y="8" width="1.04" height="1.04" fill="#74c476"/>
<rect x="18" y="8" width="1.04" height="1.04" fill="#238b45"/>
<rect x="20" y="8" width="1.04" height="1.04" fill="#006d2c"/>
<rect x="3" y="9" width="1.04" height="1.04" fill="#a1d99b"/>
<rect x="4" y="9" width="1.04" height="1.04" fill="#c7e9c0"/>
<rect x="5" y="9" width="1.04" height="1.04" fill="#238b45"/>
<rect x="8" y="9" width="1.04" height="1.04" fill="#00441b"/>
<rect x="12" y="9" width="1.04" height="1.04" fill="#e5f5e0"/>
<rect x="14" y="9" width="1.04" height="1.04" fill="#00441b"/>
<rect x="15" y="9" width="1.04" height="1.04" fill="#006d2c"/>
<rect x="17" y="9" width="1.04" height="1.04" fill="#a1d99b"/>
<rect x="22" y="9" width="1.04" height="1.04" fill="#c7e9c0"/>
</g>
<polygon points="484.10,64.50 678.90,64.50 725.00,94.80 530.20,94.80" fill="none" stroke="#1a1a1a" stroke-width="1.1" stroke-linejoin="miter"/>
<circle cx="615.0" cy="116.4" r="1.45" fill="#111"/>
<circle cx="615.0" cy="121.8" r="1.45" fill="#111"/>
<circle cx="615.0" cy="127.2" r="1.45" fill="#111"/>
<text x="623.30" y="173.90" font-size="7.9" fill="#1c1c1c" stroke="#1c1c1c" stroke-width="0.18" text-anchor="middle">Pseudobulk Samples</text>
<polygon points="507.60,190.20 699.80,190.20 735.70,213.10 543.50,213.10" fill="#fbe3d6" filter="url(#sh)"/>
<g transform="matrix(10.1158,0,5.1286,3.2714,507.60,190.20)">
<rect x="5" y="0" width="1.04" height="1.04" fill="#f08a24"/>
<rect x="9" y="0" width="1.04" height="1.04" fill="#f08a24"/>
<rect x="15" y="0" width="1.04" height="1.04" fill="#fbd5a8"/>
<rect x="18" y="0" width="1.04" height="1.04" fill="#f7c873"/>
<rect x="6" y="1" width="1.04" height="1.04" fill="#ec7014"/>
<rect x="8" y="1" width="1.04" height="1.04" fill="#f08a24"/>
<rect x="11" y="1" width="1.04" height="1.04" fill="#f08a24"/>
<rect x="13" y="1" width="1.04" height="1.04" fill="#f9c27a"/>
<rect x="14" y="1" width="1.04" height="1.04" fill="#fdd49e"/>
<rect x="16" y="1" width="1.04" height="1.04" fill="#ec7014"/>
<rect x="18" y="1" width="1.04" height="1.04" fill="#f9c27a"/>
<rect x="1" y="2" width="1.04" height="1.04" fill="#f7c873"/>
<rect x="13" y="2" width="1.04" height="1.04" fill="#ec7014"/>
<rect x="14" y="2" width="1.04" height="1.04" fill="#f7c873"/>
<rect x="16" y="2" width="1.04" height="1.04" fill="#f9c27a"/>
<rect x="1" y="3" width="1.04" height="1.04" fill="#f5b841"/>
<rect x="7" y="3" width="1.04" height="1.04" fill="#ec7014"/>
<rect x="9" y="3" width="1.04" height="1.04" fill="#f9c27a"/>
<rect x="11" y="3" width="1.04" height="1.04" fill="#fdd49e"/>
<rect x="12" y="3" width="1.04" height="1.04" fill="#fbd5a8"/>
<rect x="13" y="3" width="1.04" height="1.04" fill="#f08a24"/>
<rect x="14" y="3" width="1.04" height="1.04" fill="#fdae6b"/>
<rect x="16" y="3" width="1.04" height="1.04" fill="#f9c27a"/>
<rect x="17" y="3" width="1.04" height="1.04" fill="#f9c27a"/>
<rect x="0" y="4" width="1.04" height="1.04" fill="#f08a24"/>
<rect x="6" y="4" width="1.04" height="1.04" fill="#ec7014"/>
<rect x="9" y="4" width="1.04" height="1.04" fill="#ec7014"/>
<rect x="11" y="4" width="1.04" height="1.04" fill="#fdae6b"/>
<rect x="13" y="4" width="1.04" height="1.04" fill="#fdae6b"/>
<rect x="14" y="4" width="1.04" height="1.04" fill="#f08a24"/>
<rect x="2" y="5" width="1.04" height="1.04" fill="#f7c873"/>
<rect x="5" y="5" width="1.04" height="1.04" fill="#fdd49e"/>
<rect x="6" y="5" width="1.04" height="1.04" fill="#fdd49e"/>
<rect x="8" y="5" width="1.04" height="1.04" fill="#fdd49e"/>
<rect x="9" y="5" width="1.04" height="1.04" fill="#f5b841"/>
<rect x="14" y="5" width="1.04" height="1.04" fill="#fdd49e"/>
<rect x="0" y="6" width="1.04" height="1.04" fill="#f5b841"/>
<rect x="7" y="6" width="1.04" height="1.04" fill="#f9c27a"/>
<rect x="8" y="6" width="1.04" height="1.04" fill="#fbd5a8"/>
<rect x="12" y="6" width="1.04" height="1.04" fill="#fdd49e"/>
<rect x="15" y="6" width="1.04" height="1.04" fill="#f7c873"/>
</g>
<polygon points="507.60,190.20 699.80,190.20 735.70,213.10 543.50,213.10" fill="none" stroke="#1a1a1a" stroke-width="1.1" stroke-linejoin="miter"/>
<text x="302.20" y="181.20" font-size="7.9" fill="#202020" stroke="#202020" stroke-width="0.18" text-anchor="middle" transform="rotate(34.5 302.20 181.20)">Pathways</text>
<text x="403.50" y="260.00" font-size="13" font-weight="bold" fill="#1c1a1a" stroke="#1c1a1a" stroke-width="0.18" text-anchor="start">Step4</text>
<rect x="454.25" y="243.00" width="3.70" height="15.50" fill="#b8b39f"/>
<polygon points="450.10,258.00 462.10,258.00 456.10,267.30" fill="#b8b39f"/>
<text x="469.00" y="259.40" font-size="10.5" font-weight="bold" fill="#8a7c69" stroke="#8a7c69" stroke-width="0.18" text-anchor="start">Integration Analysis</text>
<rect x="225.90" y="273.20" width="530.50" height="124.60" fill="none" stroke="#5a5a5a" stroke-width="1.1" stroke-dasharray="3.6 3.1"/>
<line x1="253.80" y1="282.00" x2="253.80" y2="353.30" stroke="#111" stroke-width="1.4"/>
<line x1="253.10" y1="352.70" x2="336.00" y2="352.70" stroke="#111" stroke-width="1.4"/>
<text x="251.60" y="315.60" font-size="8.2" fill="#1c1a1a" stroke="#1c1a1a" stroke-width="0.18" text-anchor="middle" transform="rotate(-90 251.60 315.60)">Factor  n</text>
<text x="279.60" y="361.20" font-size="7.8" fill="#1c1a1a" stroke="#1c1a1a" stroke-width="0.18" text-anchor="middle">Control</text>
<text x="317.10" y="361.20" font-size="7.8" fill="#1c1a1a" stroke="#1c1a1a" stroke-width="0.18" text-anchor="middle">Case</text>
<path d="M280.5,301.5 C282.5,309 287,316 292,322.5 C296.5,327.5 296.5,333 292,336.5 C288,339.5 283,341 280.5,345.4 C278,341 273,339.5 269,336.5 C264.5,333 264.5,327.5 269,322.5 C274,316 278.5,309 280.5,301.5 Z" fill="#b5cce4"/>
<line x1="280.50" y1="306.00" x2="280.50" y2="340.50" stroke="#6e6e6e" stroke-width="0.9"/>
<rect x="278.9" y="318.5" width="3.2" height="14.5" rx="1" fill="#6e6e6e"/>
<rect x="279.30" y="325.60" width="2.40" height="0.90" fill="#ffffff"/>
<path d="M317.5,289 C318.8,295 322,301 327.5,306 C333.5,310.5 334,316.5 328,319.5 C323.5,322 320,324 318.5,330 C318,333 317.8,336 317.5,339.5 C317.2,336 317,333 316.5,330 C315,324 311.5,322 307,319.5 C301,316.5 301.5,310.5 307.5,306 C313,301 316.2,295 317.5,289 Z" fill="#cd1b2e"/>
<line x1="317.50" y1="294.00" x2="317.50" y2="327.00" stroke="#6e6e6e" stroke-width="0.9"/>
<rect x="315.9" y="307.5" width="3.2" height="11.5" rx="1" fill="#6e6e6e"/>
<rect x="316.30" y="312.40" width="2.40" height="0.90" fill="#ffffff"/>
<line x1="366.30" y1="281.50" x2="366.30" y2="352.20" stroke="#111" stroke-width="1.4"/>
<line x1="365.60" y1="351.50" x2="471.00" y2="351.50" stroke="#111" stroke-width="1.4"/>
<text x="362.50" y="317.00" font-size="7.8" fill="#1c1a1a" stroke="#1c1a1a" stroke-width="0.18" text-anchor="middle" transform="rotate(-90 362.50 317.00)">Pathway-cell type</text>
<text x="418.60" y="361.30" font-size="7.8" fill="#1c1a1a" stroke="#1c1a1a" stroke-width="0.18" text-anchor="middle">Weights of factor n</text>
<rect x="421.60" y="288.80" width="46.80" height="6.70" fill="#3b1f4f"/>
<rect x="421.60" y="298.20" width="24.90" height="6.70" fill="#3b1f4f"/>
<rect x="421.20" y="308.00" width="12.80" height="6.70" fill="#3b1f4f"/>
<rect x="391.80" y="317.40" width="28.80" height="6.50" fill="#9dcbe0"/>
<rect x="384.70" y="326.80" width="35.90" height="6.90" fill="#9dcbe0"/>
<rect x="373.40" y="336.40" width="47.20" height="7.10" fill="#9dcbe0"/>
<text x="353.20" y="375.70" font-size="10.5" font-weight="bold" fill="#1c1a1a" stroke="#1c1a1a" stroke-width="0.18" text-anchor="middle">Profiling Disease-related</text>
<text x="353.20" y="387.80" font-size="10.5" font-weight="bold" fill="#1c1a1a" stroke="#1c1a1a" stroke-width="0.18" text-anchor="middle">Multicellular Pathway Modules</text>
<line x1="517.70" y1="282.40" x2="517.70" y2="353.20" stroke="#111" stroke-width="1.4"/>
<line x1="517.00" y1="352.60" x2="599.60" y2="352.60" stroke="#111" stroke-width="1.4"/>
<text x="513.40" y="318.00" font-size="7.8" fill="#1c1a1a" stroke="#1c1a1a" stroke-width="0.18" text-anchor="middle" transform="rotate(-90 513.40 318.00)">UMAP2</text>
<text x="560.50" y="361.10" font-size="7.8" fill="#1c1a1a" stroke="#1c1a1a" stroke-width="0.18" text-anchor="middle">UMAP1</text>
<path d="M532.40,299.10 L532.40,296.13 Q532.40,292.50 536.36,292.50 L541.24,292.50 Q545.20,292.50 545.20,296.13 L545.20,299.10 Z" fill="#3f2516"/>
<circle cx="538.80" cy="287.90" r="3.8" fill="#3f2516"/>
<circle cx="529.2" cy="294.7" r="4.5" fill="#fff"/>
<rect x="521.9000000000001" y="298.5" width="14.6" height="9" rx="3.5" fill="#fff"/>
<circle cx="549.0" cy="294.7" r="4.5" fill="#fff"/>
<rect x="541.7" y="298.5" width="14.6" height="9" rx="3.5" fill="#fff"/>
<path d="M522.80,305.90 L522.80,302.93 Q522.80,299.30 526.76,299.30 L531.64,299.30 Q535.60,299.30 535.60,302.93 L535.60,305.90 Z" fill="#3f2516"/>
<circle cx="529.20" cy="294.70" r="3.8" fill="#3f2516"/>
<path d="M542.60,305.90 L542.60,302.93 Q542.60,299.30 546.56,299.30 L551.44,299.30 Q555.40,299.30 555.40,302.93 L555.40,305.90 Z" fill="#3f2516"/>
<circle cx="549.00" cy="294.70" r="3.8" fill="#3f2516"/>
<path d="M586.80,305.90 L586.80,302.93 Q586.80,299.30 590.76,299.30 L595.64,299.30 Q599.60,299.30 599.60,302.93 L599.60,305.90 Z" fill="#c59b6d"/>
<circle cx="593.20" cy="294.70" r="3.8" fill="#c59b6d"/>
<circle cx="583.2" cy="302.0" r="4.5" fill="#fff"/>
<rect x="575.9" y="305.8" width="14.6" height="9" rx="3.5" fill="#fff"/>
<path d="M576.80,313.20 L576.80,310.23 Q576.80,306.60 580.76,306.60 L585.64,306.60 Q589.60,306.60 589.60,310.23 L589.60,313.20 Z" fill="#c59b6d"/>
<circle cx="583.20" cy="302.00" r="3.8" fill="#c59b6d"/>
<path d="M527.40,342.40 L527.40,339.43 Q527.40,335.80 531.36,335.80 L536.24,335.80 Q540.20,335.80 540.20,339.43 L540.20,342.40 Z" fill="#2a7dc6"/>
<circle cx="533.80" cy="331.20" r="3.8" fill="#2a7dc6"/>
<path d="M548.40,341.50 L548.40,338.53 Q548.40,334.90 552.36,334.90 L557.24,334.90 Q561.20,334.90 561.20,338.53 L561.20,341.50 Z" fill="#2a7dc6"/>
<circle cx="554.80" cy="330.30" r="3.8" fill="#2a7dc6"/>
<circle cx="543.3" cy="335.8" r="4.5" fill="#fff"/>
<rect x="536.0" y="339.6" width="14.6" height="9" rx="3.5" fill="#fff"/>
<path d="M536.90,347.00 L536.90,344.03 Q536.90,340.40 540.86,340.40 L545.74,340.40 Q549.70,340.40 549.70,344.03 L549.70,347.00 Z" fill="#2a7dc6"/>
<circle cx="543.30" cy="335.80" r="3.8" fill="#2a7dc6"/>
<text x="558.80" y="376.00" font-size="10.5" font-weight="bold" fill="#1c1a1a" stroke="#1c1a1a" stroke-width="0.18" text-anchor="middle">Samples/Donors</text>
<text x="558.80" y="387.60" font-size="10.5" font-weight="bold" fill="#1c1a1a" stroke="#1c1a1a" stroke-width="0.18" text-anchor="middle">Stratification</text>
<line x1="647.80" y1="282.40" x2="647.80" y2="353.20" stroke="#111" stroke-width="1.4"/>
<line x1="647.10" y1="352.60" x2="729.80" y2="352.60" stroke="#111" stroke-width="1.4"/>
<text x="644.20" y="317.20" font-size="7.8" fill="#1c1a1a" stroke="#1c1a1a" stroke-width="0.18" text-anchor="middle" transform="rotate(-90 644.20 317.20)">TPR</text>
<text x="688.60" y="362.40" font-size="7.8" fill="#1c1a1a" stroke="#1c1a1a" stroke-width="0.18" text-anchor="middle">FPR</text>
<line x1="658.00" y1="347.20" x2="722.40" y2="283.90" stroke="#8f8f8f" stroke-width="1.4" stroke-dasharray="6 3.4"/>
<polyline points="658,347.2 658,330 658.3,323 658.3,320 659,318.5 659,315 659.8,313.5 660,309 660.8,307.5 661,304 661.8,302 662,299 662.8,297.2 663,295.5 664.2,294.5 665,293.2 667,292.6 668,291.8 670,291.4 671,290.6 674,290.2 676,289.4 679,289 683,288.2 686,288 690,287.3 694,287 698,286.3 703,286 708,285.5 713,285.3 716,284.8 719,284.6 722.4,283.9" fill="none" stroke="#c97f55" stroke-width="1.6" stroke-linejoin="round"/>
<text x="690.00" y="383.30" font-size="10.5" font-weight="bold" fill="#1c1a1a" stroke="#1c1a1a" stroke-width="0.18" text-anchor="middle">Machine Learning</text>
<text x="72.30" y="440.90" font-size="10.6" fill="#1c1c1c" text-anchor="start" xml:space="preserve"><tspan>CRC dataset (</tspan><tspan font-style="italic">Pelka et al. 2021</tspan><tspan>) with 1,629 pathways</tspan></text>
<text x="440.50" y="440.90" font-size="10.6" fill="#1c1c1c" text-anchor="start" xml:space="preserve"><tspan>lupus dataset (</tspan><tspan font-style="italic">Perez et al. 2022</tspan><tspan>) with 1,383 pathways</tspan></text>
<line x1="30.80" y1="452.20" x2="30.80" y2="567.70" stroke="#151515" stroke-width="1.3"/>
<line x1="30.20" y1="567.10" x2="184.90" y2="567.10" stroke="#151515" stroke-width="1.3"/>
<line x1="28.60" y1="563.20" x2="30.80" y2="563.20" stroke="#151515" stroke-width="0.9"/>
<text x="27.20" y="566.00" font-size="7.9" fill="#262626" stroke="#262626" stroke-width="0.18" text-anchor="end">0</text>
<line x1="28.60" y1="541.68" x2="30.80" y2="541.68" stroke="#151515" stroke-width="0.9"/>
<text x="27.20" y="544.48" font-size="7.9" fill="#262626" stroke="#262626" stroke-width="0.18" text-anchor="end">100</text>
<line x1="28.60" y1="520.16" x2="30.80" y2="520.16" stroke="#151515" stroke-width="0.9"/>
<text x="27.20" y="522.96" font-size="7.9" fill="#262626" stroke="#262626" stroke-width="0.18" text-anchor="end">200</text>
<line x1="28.60" y1="498.64" x2="30.80" y2="498.64" stroke="#151515" stroke-width="0.9"/>
<text x="27.20" y="501.44" font-size="7.9" fill="#262626" stroke="#262626" stroke-width="0.18" text-anchor="end">300</text>
<line x1="28.60" y1="477.12" x2="30.80" y2="477.12" stroke="#151515" stroke-width="0.9"/>
<text x="27.20" y="479.92" font-size="7.9" fill="#262626" stroke="#262626" stroke-width="0.18" text-anchor="end">400</text>
<line x1="28.60" y1="455.60" x2="30.80" y2="455.60" stroke="#151515" stroke-width="0.9"/>
<text x="27.20" y="458.40" font-size="7.9" fill="#262626" stroke="#262626" stroke-width="0.18" text-anchor="end">500</text>
<line x1="37.90" y1="567.10" x2="37.90" y2="569.30" stroke="#151515" stroke-width="0.9"/>
<text x="37.90" y="575.80" font-size="7.9" fill="#262626" stroke="#262626" stroke-width="0.18" text-anchor="middle">100k</text>
<line x1="107.60" y1="567.10" x2="107.60" y2="569.30" stroke="#151515" stroke-width="0.9"/>
<text x="107.60" y="575.80" font-size="7.9" fill="#262626" stroke="#262626" stroke-width="0.18" text-anchor="middle">200k</text>
<line x1="177.50" y1="567.10" x2="177.50" y2="569.30" stroke="#151515" stroke-width="0.9"/>
<text x="177.50" y="575.80" font-size="7.9" fill="#262626" stroke="#262626" stroke-width="0.18" text-anchor="middle">371.223K</text>
<polyline points="37.90,561.48 107.60,559.97 177.50,557.82" fill="none" stroke="#3aa64b" stroke-width="1.5" stroke-linejoin="round"/>
<circle cx="37.90" cy="561.48" r="2.05" fill="#fff" stroke="#3aa64b" stroke-width="1.25"/>
<circle cx="107.60" cy="559.97" r="2.05" fill="#fff" stroke="#3aa64b" stroke-width="1.25"/>
<circle cx="177.50" cy="557.82" r="2.05" fill="#fff" stroke="#3aa64b" stroke-width="1.25"/>
<polyline points="37.90,562.12 107.60,560.62 177.50,558.90" fill="none" stroke="#80cf5c" stroke-width="1.5" stroke-linejoin="round"/>
<circle cx="37.90" cy="562.12" r="2.05" fill="#fff" stroke="#80cf5c" stroke-width="1.25"/>
<circle cx="107.60" cy="560.62" r="2.05" fill="#fff" stroke="#80cf5c" stroke-width="1.25"/>
<circle cx="177.50" cy="558.90" r="2.05" fill="#fff" stroke="#80cf5c" stroke-width="1.25"/>
<polyline points="37.90,534.15 107.60,505.74 177.50,457.75" fill="none" stroke="#5c5c5c" stroke-width="1.5" stroke-linejoin="round"/>
<circle cx="37.90" cy="534.15" r="2.05" fill="#fff" stroke="#5c5c5c" stroke-width="1.25"/>
<circle cx="107.60" cy="505.74" r="2.05" fill="#fff" stroke="#5c5c5c" stroke-width="1.25"/>
<circle cx="177.50" cy="457.75" r="2.05" fill="#fff" stroke="#5c5c5c" stroke-width="1.25"/>
<polyline points="37.90,558.90 107.60,550.29 177.50,527.69" fill="none" stroke="#b97b58" stroke-width="1.5" stroke-linejoin="round"/>
<circle cx="37.90" cy="558.90" r="2.05" fill="#fff" stroke="#b97b58" stroke-width="1.25"/>
<circle cx="107.60" cy="550.29" r="2.05" fill="#fff" stroke="#b97b58" stroke-width="1.25"/>
<circle cx="177.50" cy="527.69" r="2.05" fill="#fff" stroke="#b97b58" stroke-width="1.25"/>
<polyline points="37.90,557.17 107.60,550.72 177.50,539.53" fill="none" stroke="#2a3ea8" stroke-width="1.5" stroke-linejoin="round"/>
<circle cx="37.90" cy="557.17" r="2.05" fill="#fff" stroke="#2a3ea8" stroke-width="1.25"/>
<circle cx="107.60" cy="550.72" r="2.05" fill="#fff" stroke="#2a3ea8" stroke-width="1.25"/>
<circle cx="177.50" cy="539.53" r="2.05" fill="#fff" stroke="#2a3ea8" stroke-width="1.25"/>
<text x="12.40" y="511.50" font-size="10.6" fill="#1c1c1c" stroke="#1c1c1c" stroke-width="0.18" text-anchor="middle" transform="rotate(-90 12.40 511.50)">Runtime (Min)</text>
<text x="107.00" y="590.20" font-size="10.6" fill="#1c1c1c" stroke="#1c1c1c" stroke-width="0.18" text-anchor="middle">Cell Number</text>
<line x1="216.30" y1="450.40" x2="216.30" y2="568.50" stroke="#151515" stroke-width="1.3"/>
<line x1="215.70" y1="567.90" x2="373.50" y2="567.90" stroke="#151515" stroke-width="1.3"/>
<line x1="214.10" y1="554.40" x2="216.30" y2="554.40" stroke="#151515" stroke-width="0.9"/>
<text x="212.70" y="557.20" font-size="7.9" fill="#262626" stroke="#262626" stroke-width="0.18" text-anchor="end">10</text>
<line x1="214.10" y1="538.38" x2="216.30" y2="538.38" stroke="#151515" stroke-width="0.9"/>
<text x="212.70" y="541.18" font-size="7.9" fill="#262626" stroke="#262626" stroke-width="0.18" text-anchor="end">20</text>
<line x1="214.10" y1="522.37" x2="216.30" y2="522.37" stroke="#151515" stroke-width="0.9"/>
<text x="212.70" y="525.17" font-size="7.9" fill="#262626" stroke="#262626" stroke-width="0.18" text-anchor="end">30</text>
<line x1="214.10" y1="506.35" x2="216.30" y2="506.35" stroke="#151515" stroke-width="0.9"/>
<text x="212.70" y="509.15" font-size="7.9" fill="#262626" stroke="#262626" stroke-width="0.18" text-anchor="end">40</text>
<line x1="214.10" y1="490.33" x2="216.30" y2="490.33" stroke="#151515" stroke-width="0.9"/>
<text x="212.70" y="493.13" font-size="7.9" fill="#262626" stroke="#262626" stroke-width="0.18" text-anchor="end">50</text>
<line x1="214.10" y1="474.31" x2="216.30" y2="474.31" stroke="#151515" stroke-width="0.9"/>
<text x="212.70" y="477.12" font-size="7.9" fill="#262626" stroke="#262626" stroke-width="0.18" text-anchor="end">60</text>
<line x1="214.10" y1="458.30" x2="216.30" y2="458.30" stroke="#151515" stroke-width="0.9"/>
<text x="212.70" y="461.10" font-size="7.9" fill="#262626" stroke="#262626" stroke-width="0.18" text-anchor="end">70</text>
<line x1="223.60" y1="567.90" x2="223.60" y2="570.10" stroke="#151515" stroke-width="0.9"/>
<text x="223.60" y="576.60" font-size="7.9" fill="#262626" stroke="#262626" stroke-width="0.18" text-anchor="middle">100k</text>
<line x1="295.20" y1="567.90" x2="295.20" y2="570.10" stroke="#151515" stroke-width="0.9"/>
<text x="295.20" y="576.60" font-size="7.9" fill="#262626" stroke="#262626" stroke-width="0.18" text-anchor="middle">200k</text>
<line x1="366.50" y1="567.90" x2="366.50" y2="570.10" stroke="#151515" stroke-width="0.9"/>
<text x="366.50" y="576.60" font-size="7.9" fill="#262626" stroke="#262626" stroke-width="0.18" text-anchor="middle">371.223K</text>
<polyline points="223.60,531.18 295.20,518.68 366.50,504.75" fill="none" stroke="#3aa64b" stroke-width="1.5" stroke-linejoin="round"/>
<circle cx="223.60" cy="531.18" r="2.05" fill="#fff" stroke="#3aa64b" stroke-width="1.25"/>
<circle cx="295.20" cy="518.68" r="2.05" fill="#fff" stroke="#3aa64b" stroke-width="1.25"/>
<circle cx="366.50" cy="504.75" r="2.05" fill="#fff" stroke="#3aa64b" stroke-width="1.25"/>
<polyline points="223.60,518.36 295.20,494.34 366.50,467.91" fill="none" stroke="#80cf5c" stroke-width="1.5" stroke-linejoin="round"/>
<circle cx="223.60" cy="518.36" r="2.05" fill="#fff" stroke="#80cf5c" stroke-width="1.25"/>
<circle cx="295.20" cy="494.34" r="2.05" fill="#fff" stroke="#80cf5c" stroke-width="1.25"/>
<circle cx="366.50" cy="467.91" r="2.05" fill="#fff" stroke="#80cf5c" stroke-width="1.25"/>
<polyline points="223.60,562.73 295.20,555.68 366.50,543.19" fill="none" stroke="#5c5c5c" stroke-width="1.5" stroke-linejoin="round"/>
<circle cx="223.60" cy="562.73" r="2.05" fill="#fff" stroke="#5c5c5c" stroke-width="1.25"/>
<circle cx="295.20" cy="555.68" r="2.05" fill="#fff" stroke="#5c5c5c" stroke-width="1.25"/>
<circle cx="366.50" cy="543.19" r="2.05" fill="#fff" stroke="#5c5c5c" stroke-width="1.25"/>
<polyline points="223.60,501.54 295.20,483.12 366.50,455.90" fill="none" stroke="#b97b58" stroke-width="1.5" stroke-linejoin="round"/>
<circle cx="223.60" cy="501.54" r="2.05" fill="#fff" stroke="#b97b58" stroke-width="1.25"/>
<circle cx="295.20" cy="483.12" r="2.05" fill="#fff" stroke="#b97b58" stroke-width="1.25"/>
<circle cx="366.50" cy="455.90" r="2.05" fill="#fff" stroke="#b97b58" stroke-width="1.25"/>
<polyline points="223.60,532.78 295.20,523.17 366.50,508.43" fill="none" stroke="#2a3ea8" stroke-width="1.5" stroke-linejoin="round"/>
<circle cx="223.60" cy="532.78" r="2.05" fill="#fff" stroke="#2a3ea8" stroke-width="1.25"/>
<circle cx="295.20" cy="523.17" r="2.05" fill="#fff" stroke="#2a3ea8" stroke-width="1.25"/>
<circle cx="366.50" cy="508.43" r="2.05" fill="#fff" stroke="#2a3ea8" stroke-width="1.25"/>
<text x="201.30" y="513.60" font-size="10.6" fill="#1c1c1c" stroke="#1c1c1c" stroke-width="0.18" text-anchor="middle" transform="rotate(-90 201.30 513.60)">Peak Memory (GB)</text>
<text x="295.00" y="590.90" font-size="10.6" fill="#1c1c1c" stroke="#1c1c1c" stroke-width="0.18" text-anchor="middle">Cell Number</text>
<line x1="413.90" y1="456.60" x2="413.90" y2="568.90" stroke="#151515" stroke-width="1.3"/>
<line x1="413.30" y1="568.30" x2="560.20" y2="568.30" stroke="#151515" stroke-width="1.3"/>
<line x1="411.70" y1="563.10" x2="413.90" y2="563.10" stroke="#151515" stroke-width="0.9"/>
<text x="410.30" y="565.90" font-size="7.9" fill="#262626" stroke="#262626" stroke-width="0.18" text-anchor="end">0</text>
<line x1="411.70" y1="547.30" x2="413.90" y2="547.30" stroke="#151515" stroke-width="0.9"/>
<text x="410.30" y="550.10" font-size="7.9" fill="#262626" stroke="#262626" stroke-width="0.18" text-anchor="end">200</text>
<line x1="411.70" y1="531.50" x2="413.90" y2="531.50" stroke="#151515" stroke-width="0.9"/>
<text x="410.30" y="534.30" font-size="7.9" fill="#262626" stroke="#262626" stroke-width="0.18" text-anchor="end">400</text>
<line x1="411.70" y1="515.70" x2="413.90" y2="515.70" stroke="#151515" stroke-width="0.9"/>
<text x="410.30" y="518.50" font-size="7.9" fill="#262626" stroke="#262626" stroke-width="0.18" text-anchor="end">600</text>
<line x1="411.70" y1="499.90" x2="413.90" y2="499.90" stroke="#151515" stroke-width="0.9"/>
<text x="410.30" y="502.70" font-size="7.9" fill="#262626" stroke="#262626" stroke-width="0.18" text-anchor="end">800</text>
<line x1="411.70" y1="484.10" x2="413.90" y2="484.10" stroke="#151515" stroke-width="0.9"/>
<text x="410.30" y="486.90" font-size="7.9" fill="#262626" stroke="#262626" stroke-width="0.18" text-anchor="end">1000</text>
<line x1="411.70" y1="468.30" x2="413.90" y2="468.30" stroke="#151515" stroke-width="0.9"/>
<text x="410.30" y="471.10" font-size="7.9" fill="#262626" stroke="#262626" stroke-width="0.18" text-anchor="end">1200</text>
<line x1="421.30" y1="568.30" x2="421.30" y2="570.50" stroke="#151515" stroke-width="0.9"/>
<text x="421.30" y="577.50" font-size="7.9" fill="#262626" stroke="#262626" stroke-width="0.18" text-anchor="middle">100k</text>
<line x1="466.20" y1="568.30" x2="466.20" y2="570.50" stroke="#151515" stroke-width="0.9"/>
<text x="466.20" y="577.50" font-size="7.9" fill="#262626" stroke="#262626" stroke-width="0.18" text-anchor="middle">200k</text>
<line x1="511.90" y1="568.30" x2="511.90" y2="570.50" stroke="#151515" stroke-width="0.9"/>
<text x="511.90" y="577.50" font-size="7.9" fill="#262626" stroke="#262626" stroke-width="0.18" text-anchor="middle">500k</text>
<line x1="557.00" y1="568.30" x2="557.00" y2="570.50" stroke="#151515" stroke-width="0.9"/>
<text x="557.00" y="577.50" font-size="7.9" fill="#262626" stroke="#262626" stroke-width="0.18" text-anchor="middle">1263.676k</text>
<polyline points="421.30,562.71 466.20,562.47 511.90,561.92 557.00,560.34" fill="none" stroke="#3aa64b" stroke-width="1.5" stroke-linejoin="round"/>
<circle cx="421.30" cy="562.71" r="2.05" fill="#fff" stroke="#3aa64b" stroke-width="1.25"/>
<circle cx="466.20" cy="562.47" r="2.05" fill="#fff" stroke="#3aa64b" stroke-width="1.25"/>
<circle cx="511.90" cy="561.92" r="2.05" fill="#fff" stroke="#3aa64b" stroke-width="1.25"/>
<circle cx="557.00" cy="560.34" r="2.05" fill="#fff" stroke="#3aa64b" stroke-width="1.25"/>
<polyline points="421.30,562.94 466.20,562.71 511.90,562.31 557.00,561.12" fill="none" stroke="#80cf5c" stroke-width="1.5" stroke-linejoin="round"/>
<circle cx="421.30" cy="562.94" r="2.05" fill="#fff" stroke="#80cf5c" stroke-width="1.25"/>
<circle cx="466.20" cy="562.71" r="2.05" fill="#fff" stroke="#80cf5c" stroke-width="1.25"/>
<circle cx="511.90" cy="562.31" r="2.05" fill="#fff" stroke="#80cf5c" stroke-width="1.25"/>
<circle cx="557.00" cy="561.12" r="2.05" fill="#fff" stroke="#80cf5c" stroke-width="1.25"/>
<polyline points="421.30,559.55 466.20,555.60 511.90,545.72 557.00,519.25" fill="none" stroke="#5c5c5c" stroke-width="1.5" stroke-linejoin="round"/>
<circle cx="421.30" cy="559.55" r="2.05" fill="#fff" stroke="#5c5c5c" stroke-width="1.25"/>
<circle cx="466.20" cy="555.60" r="2.05" fill="#fff" stroke="#5c5c5c" stroke-width="1.25"/>
<circle cx="511.90" cy="545.72" r="2.05" fill="#fff" stroke="#5c5c5c" stroke-width="1.25"/>
<circle cx="557.00" cy="519.25" r="2.05" fill="#fff" stroke="#5c5c5c" stroke-width="1.25"/>
<polyline points="421.30,560.73 466.20,558.36 511.90,546.12 557.00,461.98" fill="none" stroke="#b97b58" stroke-width="1.5" stroke-linejoin="round"/>
<circle cx="421.30" cy="560.73" r="2.05" fill="#fff" stroke="#b97b58" stroke-width="1.25"/>
<circle cx="466.20" cy="558.36" r="2.05" fill="#fff" stroke="#b97b58" stroke-width="1.25"/>
<circle cx="511.90" cy="546.12" r="2.05" fill="#fff" stroke="#b97b58" stroke-width="1.25"/>
<circle cx="557.00" cy="461.98" r="2.05" fill="#fff" stroke="#b97b58" stroke-width="1.25"/>
<polyline points="421.30,561.92 466.20,559.55 511.90,554.01 557.00,539.00" fill="none" stroke="#2a3ea8" stroke-width="1.5" stroke-linejoin="round"/>
<circle cx="421.30" cy="561.92" r="2.05" fill="#fff" stroke="#2a3ea8" stroke-width="1.25"/>
<circle cx="466.20" cy="559.55" r="2.05" fill="#fff" stroke="#2a3ea8" stroke-width="1.25"/>
<circle cx="511.90" cy="554.01" r="2.05" fill="#fff" stroke="#2a3ea8" stroke-width="1.25"/>
<circle cx="557.00" cy="539.00" r="2.05" fill="#fff" stroke="#2a3ea8" stroke-width="1.25"/>
<text x="390.80" y="514.90" font-size="10.6" fill="#1c1c1c" stroke="#1c1c1c" stroke-width="0.18" text-anchor="middle" transform="rotate(-90 390.80 514.90)">Runtime (Min)</text>
<text x="488.10" y="590.40" font-size="10.6" fill="#1c1c1c" stroke="#1c1c1c" stroke-width="0.18" text-anchor="middle">Cell Number</text>
<line x1="598.60" y1="454.40" x2="598.60" y2="568.50" stroke="#151515" stroke-width="1.3"/>
<line x1="598.00" y1="567.90" x2="751.90" y2="567.90" stroke="#151515" stroke-width="1.3"/>
<line x1="596.40" y1="565.30" x2="598.60" y2="565.30" stroke="#151515" stroke-width="0.9"/>
<text x="595.00" y="568.10" font-size="7.9" fill="#262626" stroke="#262626" stroke-width="0.18" text-anchor="end">0</text>
<line x1="596.40" y1="548.25" x2="598.60" y2="548.25" stroke="#151515" stroke-width="0.9"/>
<text x="595.00" y="551.05" font-size="7.9" fill="#262626" stroke="#262626" stroke-width="0.18" text-anchor="end">20</text>
<line x1="596.40" y1="531.20" x2="598.60" y2="531.20" stroke="#151515" stroke-width="0.9"/>
<text x="595.00" y="534.00" font-size="7.9" fill="#262626" stroke="#262626" stroke-width="0.18" text-anchor="end">40</text>
<line x1="596.40" y1="514.15" x2="598.60" y2="514.15" stroke="#151515" stroke-width="0.9"/>
<text x="595.00" y="516.95" font-size="7.9" fill="#262626" stroke="#262626" stroke-width="0.18" text-anchor="end">60</text>
<line x1="596.40" y1="497.10" x2="598.60" y2="497.10" stroke="#151515" stroke-width="0.9"/>
<text x="595.00" y="499.90" font-size="7.9" fill="#262626" stroke="#262626" stroke-width="0.18" text-anchor="end">80</text>
<line x1="596.40" y1="480.05" x2="598.60" y2="480.05" stroke="#151515" stroke-width="0.9"/>
<text x="595.00" y="482.85" font-size="7.9" fill="#262626" stroke="#262626" stroke-width="0.18" text-anchor="end">100</text>
<line x1="596.40" y1="463.00" x2="598.60" y2="463.00" stroke="#151515" stroke-width="0.9"/>
<text x="595.00" y="465.80" font-size="7.9" fill="#262626" stroke="#262626" stroke-width="0.18" text-anchor="end">120</text>
<line x1="605.70" y1="567.90" x2="605.70" y2="570.10" stroke="#151515" stroke-width="0.9"/>
<text x="605.70" y="577.50" font-size="7.9" fill="#262626" stroke="#262626" stroke-width="0.18" text-anchor="middle">100k</text>
<line x1="651.60" y1="567.90" x2="651.60" y2="570.10" stroke="#151515" stroke-width="0.9"/>
<text x="651.60" y="577.50" font-size="7.9" fill="#262626" stroke="#262626" stroke-width="0.18" text-anchor="middle">200k</text>
<line x1="697.90" y1="567.90" x2="697.90" y2="570.10" stroke="#151515" stroke-width="0.9"/>
<text x="697.90" y="577.50" font-size="7.9" fill="#262626" stroke="#262626" stroke-width="0.18" text-anchor="middle">500k</text>
<line x1="744.80" y1="567.90" x2="744.80" y2="570.10" stroke="#151515" stroke-width="0.9"/>
<text x="744.80" y="577.50" font-size="7.9" fill="#262626" stroke="#262626" stroke-width="0.18" text-anchor="middle">1263.676k</text>
<polyline points="605.70,557.20 651.60,553.79 697.90,547.40 744.80,526.51" fill="none" stroke="#3aa64b" stroke-width="1.5" stroke-linejoin="round"/>
<circle cx="605.70" cy="557.20" r="2.05" fill="#fff" stroke="#3aa64b" stroke-width="1.25"/>
<circle cx="651.60" cy="553.79" r="2.05" fill="#fff" stroke="#3aa64b" stroke-width="1.25"/>
<circle cx="697.90" cy="547.40" r="2.05" fill="#fff" stroke="#3aa64b" stroke-width="1.25"/>
<circle cx="744.80" cy="526.51" r="2.05" fill="#fff" stroke="#3aa64b" stroke-width="1.25"/>
<polyline points="605.70,551.66 651.60,545.69 697.90,535.04 744.80,503.49" fill="none" stroke="#80cf5c" stroke-width="1.5" stroke-linejoin="round"/>
<circle cx="605.70" cy="551.66" r="2.05" fill="#fff" stroke="#80cf5c" stroke-width="1.25"/>
<circle cx="651.60" cy="545.69" r="2.05" fill="#fff" stroke="#80cf5c" stroke-width="1.25"/>
<circle cx="697.90" cy="535.04" r="2.05" fill="#fff" stroke="#80cf5c" stroke-width="1.25"/>
<circle cx="744.80" cy="503.49" r="2.05" fill="#fff" stroke="#80cf5c" stroke-width="1.25"/>
<polyline points="605.70,563.59 651.60,561.46 697.90,555.92 744.80,540.58" fill="none" stroke="#5c5c5c" stroke-width="1.5" stroke-linejoin="round"/>
<circle cx="605.70" cy="563.59" r="2.05" fill="#fff" stroke="#5c5c5c" stroke-width="1.25"/>
<circle cx="651.60" cy="561.46" r="2.05" fill="#fff" stroke="#5c5c5c" stroke-width="1.25"/>
<circle cx="697.90" cy="555.92" r="2.05" fill="#fff" stroke="#5c5c5c" stroke-width="1.25"/>
<circle cx="744.80" cy="540.58" r="2.05" fill="#fff" stroke="#5c5c5c" stroke-width="1.25"/>
<polyline points="605.70,536.74 651.60,532.48 697.90,520.12 744.80,459.59" fill="none" stroke="#b97b58" stroke-width="1.5" stroke-linejoin="round"/>
<circle cx="605.70" cy="536.74" r="2.05" fill="#fff" stroke="#b97b58" stroke-width="1.25"/>
<circle cx="651.60" cy="532.48" r="2.05" fill="#fff" stroke="#b97b58" stroke-width="1.25"/>
<circle cx="697.90" cy="520.12" r="2.05" fill="#fff" stroke="#b97b58" stroke-width="1.25"/>
<circle cx="744.80" cy="459.59" r="2.05" fill="#fff" stroke="#b97b58" stroke-width="1.25"/>
<polyline points="605.70,547.82 651.60,545.69 697.90,538.45 744.80,518.41" fill="none" stroke="#2a3ea8" stroke-width="1.5" stroke-linejoin="round"/>
<circle cx="605.70" cy="547.82" r="2.05" fill="#fff" stroke="#2a3ea8" stroke-width="1.25"/>
<circle cx="651.60" cy="545.69" r="2.05" fill="#fff" stroke="#2a3ea8" stroke-width="1.25"/>
<circle cx="697.90" cy="538.45" r="2.05" fill="#fff" stroke="#2a3ea8" stroke-width="1.25"/>
<circle cx="744.80" cy="518.41" r="2.05" fill="#fff" stroke="#2a3ea8" stroke-width="1.25"/>
<text x="579.60" y="511.20" font-size="10.6" fill="#1c1c1c" stroke="#1c1c1c" stroke-width="0.18" text-anchor="middle" transform="rotate(-90 579.60 511.20)">Peak Memory (GB)</text>
<text x="674.80" y="590.90" font-size="10.6" fill="#1c1c1c" stroke="#1c1c1c" stroke-width="0.18" text-anchor="middle">Cell Number</text>
<rect x="17.4" y="600.4" width="733.9" height="22.4" rx="5" fill="#e9e9ea"/>
<line x1="24.40" y1="611.20" x2="47.20" y2="611.20" stroke="#3aa64b" stroke-width="2.0"/>
<circle cx="35.80" cy="611.2" r="2.5" fill="#ffffff" stroke="#3aa64b" stroke-width="1.5"/>
<text x="54.20" y="614.40" font-size="10.6" fill="#1c1c1c" stroke="#1c1c1c" stroke-width="0.18" text-anchor="start">fast_score_genes (10 Cores)</text>
<line x1="205.10" y1="611.20" x2="229.00" y2="611.20" stroke="#80cf5c" stroke-width="2.0"/>
<circle cx="217.05" cy="611.2" r="2.5" fill="#ffffff" stroke="#80cf5c" stroke-width="1.5"/>
<text x="236.60" y="614.40" font-size="10.6" fill="#1c1c1c" stroke="#1c1c1c" stroke-width="0.18" text-anchor="start">fast_ucell (10 Cores)</text>
<line x1="356.60" y1="611.20" x2="379.30" y2="611.20" stroke="#5c5c5c" stroke-width="2.0"/>
<circle cx="367.95" cy="611.2" r="2.5" fill="#ffffff" stroke="#5c5c5c" stroke-width="1.5"/>
<text x="387.70" y="614.40" font-size="10.6" fill="#1c1c1c" stroke="#1c1c1c" stroke-width="0.18" text-anchor="start">score_genes (1 Core)</text>
<line x1="504.80" y1="611.20" x2="528.00" y2="611.20" stroke="#b97b58" stroke-width="2.0"/>
<circle cx="516.40" cy="611.2" r="2.5" fill="#ffffff" stroke="#b97b58" stroke-width="1.5"/>
<text x="534.90" y="614.40" font-size="10.6" fill="#1c1c1c" stroke="#1c1c1c" stroke-width="0.18" text-anchor="start">UCell (10 Cores)</text>
<line x1="626.50" y1="611.20" x2="649.70" y2="611.20" stroke="#2a3ea8" stroke-width="2.0"/>
<circle cx="638.10" cy="611.2" r="2.5" fill="#ffffff" stroke="#2a3ea8" stroke-width="1.5"/>
<text x="655.50" y="614.40" font-size="10.6" fill="#1c1c1c" stroke="#1c1c1c" stroke-width="0.18" text-anchor="start">AUCell (10 Cores)</text>
<text x="114.3" y="663.3" font-size="10.6" fill="#222" text-anchor="middle"><tspan>CRC dataset (</tspan><tspan font-style="italic">Pelka et al. 2021</tspan><tspan>)</tspan></text>
<text x="114.90" y="675.60" font-size="10.6" fill="#1c1c1c" stroke="#1c1c1c" stroke-width="0.18" text-anchor="middle">with 14,300 pathways</text>
<line x1="32.10" y1="689.80" x2="32.10" y2="804.80" stroke="#151515" stroke-width="1.3"/>
<line x1="31.50" y1="804.20" x2="190.00" y2="804.20" stroke="#151515" stroke-width="1.3"/>
<line x1="29.90" y1="781.20" x2="32.10" y2="781.20" stroke="#151515" stroke-width="0.9"/>
<text x="28.50" y="784.00" font-size="7.9" fill="#262626" stroke="#262626" stroke-width="0.18" text-anchor="end">40</text>
<line x1="29.90" y1="758.13" x2="32.10" y2="758.13" stroke="#151515" stroke-width="0.9"/>
<text x="28.50" y="760.93" font-size="7.9" fill="#262626" stroke="#262626" stroke-width="0.18" text-anchor="end">60</text>
<line x1="29.90" y1="735.07" x2="32.10" y2="735.07" stroke="#151515" stroke-width="0.9"/>
<text x="28.50" y="737.87" font-size="7.9" fill="#262626" stroke="#262626" stroke-width="0.18" text-anchor="end">80</text>
<line x1="29.90" y1="712.00" x2="32.10" y2="712.00" stroke="#151515" stroke-width="0.9"/>
<text x="28.50" y="714.80" font-size="7.9" fill="#262626" stroke="#262626" stroke-width="0.18" text-anchor="end">100</text>
<line x1="38.60" y1="804.20" x2="38.60" y2="806.40" stroke="#151515" stroke-width="0.9"/>
<line x1="111.00" y1="804.20" x2="111.00" y2="806.40" stroke="#151515" stroke-width="0.9"/>
<line x1="182.80" y1="804.20" x2="182.80" y2="806.40" stroke="#151515" stroke-width="0.9"/>
<polyline points="38.60,774.86 111.00,731.61 182.80,695.86" fill="none" stroke="#3a9c46" stroke-width="1.7" stroke-linejoin="round"/>
<circle cx="38.60" cy="774.86" r="2.05" fill="#fff" stroke="#3a9c46" stroke-width="1.25"/>
<circle cx="111.00" cy="731.61" r="2.05" fill="#fff" stroke="#3a9c46" stroke-width="1.25"/>
<circle cx="182.80" cy="695.86" r="2.05" fill="#fff" stroke="#3a9c46" stroke-width="1.25"/>
<polyline points="38.60,797.92 111.00,784.66 182.80,776.59" fill="none" stroke="#80cf5c" stroke-width="1.5" stroke-linejoin="round"/>
<circle cx="38.60" cy="797.92" r="2.05" fill="#fff" stroke="#80cf5c" stroke-width="1.25"/>
<circle cx="111.00" cy="784.66" r="2.05" fill="#fff" stroke="#80cf5c" stroke-width="1.25"/>
<circle cx="182.80" cy="776.59" r="2.05" fill="#fff" stroke="#80cf5c" stroke-width="1.25"/>
<text x="11.90" y="745.30" font-size="10.6" fill="#1c1c1c" stroke="#1c1c1c" stroke-width="0.18" text-anchor="middle" transform="rotate(-90 11.90 745.30)">Runtime (Min)</text>
<line x1="31.90" y1="816.20" x2="31.90" y2="929.80" stroke="#151515" stroke-width="1.3"/>
<line x1="31.30" y1="929.20" x2="190.60" y2="929.20" stroke="#151515" stroke-width="1.3"/>
<line x1="29.70" y1="914.90" x2="31.90" y2="914.90" stroke="#151515" stroke-width="0.9"/>
<text x="28.30" y="917.70" font-size="7.9" fill="#262626" stroke="#262626" stroke-width="0.18" text-anchor="end">80</text>
<line x1="29.70" y1="898.88" x2="31.90" y2="898.88" stroke="#151515" stroke-width="0.9"/>
<text x="28.30" y="901.68" font-size="7.9" fill="#262626" stroke="#262626" stroke-width="0.18" text-anchor="end">100</text>
<line x1="29.70" y1="882.86" x2="31.90" y2="882.86" stroke="#151515" stroke-width="0.9"/>
<text x="28.30" y="885.66" font-size="7.9" fill="#262626" stroke="#262626" stroke-width="0.18" text-anchor="end">120</text>
<line x1="29.70" y1="866.84" x2="31.90" y2="866.84" stroke="#151515" stroke-width="0.9"/>
<text x="28.30" y="869.64" font-size="7.9" fill="#262626" stroke="#262626" stroke-width="0.18" text-anchor="end">140</text>
<line x1="29.70" y1="850.82" x2="31.90" y2="850.82" stroke="#151515" stroke-width="0.9"/>
<text x="28.30" y="853.62" font-size="7.9" fill="#262626" stroke="#262626" stroke-width="0.18" text-anchor="end">160</text>
<line x1="29.70" y1="834.80" x2="31.90" y2="834.80" stroke="#151515" stroke-width="0.9"/>
<text x="28.30" y="837.60" font-size="7.9" fill="#262626" stroke="#262626" stroke-width="0.18" text-anchor="end">180</text>
<line x1="29.70" y1="818.78" x2="31.90" y2="818.78" stroke="#151515" stroke-width="0.9"/>
<text x="28.30" y="821.58" font-size="7.9" fill="#262626" stroke="#262626" stroke-width="0.18" text-anchor="end">200</text>
<line x1="38.60" y1="929.20" x2="38.60" y2="931.40" stroke="#151515" stroke-width="0.9"/>
<text x="38.60" y="938.50" font-size="7.9" fill="#262626" stroke="#262626" stroke-width="0.18" text-anchor="middle">5,000</text>
<line x1="111.00" y1="929.20" x2="111.00" y2="931.40" stroke="#151515" stroke-width="0.9"/>
<text x="111.00" y="938.50" font-size="7.9" fill="#262626" stroke="#262626" stroke-width="0.18" text-anchor="middle">10,000</text>
<line x1="182.80" y1="929.20" x2="182.80" y2="931.40" stroke="#151515" stroke-width="0.9"/>
<text x="182.80" y="938.50" font-size="7.9" fill="#262626" stroke="#262626" stroke-width="0.18" text-anchor="middle">14,300</text>
<polyline points="38.60,872.45 111.00,838.80 182.80,821.98" fill="none" stroke="#80cf5c" stroke-width="1.5" stroke-linejoin="round"/>
<circle cx="38.60" cy="872.45" r="2.05" fill="#fff" stroke="#80cf5c" stroke-width="1.25"/>
<circle cx="111.00" cy="838.80" r="2.05" fill="#fff" stroke="#80cf5c" stroke-width="1.25"/>
<circle cx="182.80" cy="821.98" r="2.05" fill="#fff" stroke="#80cf5c" stroke-width="1.25"/>
<polyline points="38.60,924.51 111.00,911.30 182.80,895.68" fill="none" stroke="#3a9c46" stroke-width="1.7" stroke-linejoin="round"/>
<circle cx="38.60" cy="924.51" r="2.05" fill="#fff" stroke="#3a9c46" stroke-width="1.25"/>
<circle cx="111.00" cy="911.30" r="2.05" fill="#fff" stroke="#3a9c46" stroke-width="1.25"/>
<circle cx="182.80" cy="895.68" r="2.05" fill="#fff" stroke="#3a9c46" stroke-width="1.25"/>
<text x="11.40" y="869.90" font-size="10.6" fill="#1c1c1c" stroke="#1c1c1c" stroke-width="0.18" text-anchor="middle" transform="rotate(-90 11.40 869.90)">Peak Memory (GB)</text>
<text x="112.20" y="951.50" font-size="10.6" fill="#1c1c1c" stroke="#1c1c1c" stroke-width="0.18" text-anchor="middle">Pathway Number</text>
<rect x="18.0" y="963.7" width="188.3" height="34.6" rx="5" fill="#e9e9ea"/>
<line x1="28.70" y1="973.50" x2="57.10" y2="973.50" stroke="#3a9c46" stroke-width="2.4"/>
<circle cx="42.4" cy="973.5" r="3.5" fill="#ffffff" stroke="#3a9c46" stroke-width="1.8"/>
<text x="66.30" y="977.20" font-size="10.6" fill="#1c1c1c" stroke="#1c1c1c" stroke-width="0.18" text-anchor="start">fast_score_genes (20 Cores)</text>
<line x1="28.70" y1="989.80" x2="57.10" y2="989.80" stroke="#80cf5c" stroke-width="2.4"/>
<circle cx="42.4" cy="989.8" r="3.5" fill="#ffffff" stroke="#80cf5c" stroke-width="1.8"/>
<text x="66.30" y="993.50" font-size="10.6" fill="#1c1c1c" stroke="#1c1c1c" stroke-width="0.18" text-anchor="start">fast_ucell (20 Cores)</text>
<text x="354.6" y="663.3" font-size="10.6" fill="#222" text-anchor="middle">100K cells subset of CRC dataset</text>
<text x="355.8" y="675.6" font-size="10.6" fill="#222" text-anchor="middle"><tspan>(</tspan><tspan font-style="italic">Pelka et al. 2021</tspan><tspan>) with 1,629 pathways</tspan></text>
<text x="623.6" y="662.6" font-size="10.6" fill="#222" text-anchor="middle">100K cells subset of lupus dataset</text>
<text x="623.6" y="676.2" font-size="10.6" fill="#222" text-anchor="middle"><tspan>(</tspan><tspan font-style="italic">Perez et al. 2022</tspan><tspan>) with 1,383 pathways</tspan></text>
<line x1="241.80" y1="690.60" x2="241.80" y2="929.90" stroke="#151515" stroke-width="1.3"/>
<line x1="241.20" y1="929.30" x2="481.30" y2="929.30" stroke="#151515" stroke-width="1.3"/>
<line x1="239.60" y1="929.30" x2="241.80" y2="929.30" stroke="#151515" stroke-width="0.9"/>
<text x="238.20" y="932.10" font-size="7.9" fill="#262626" stroke="#262626" stroke-width="0.18" text-anchor="end">0</text>
<line x1="239.60" y1="902.10" x2="241.80" y2="902.10" stroke="#151515" stroke-width="0.9"/>
<text x="238.20" y="904.90" font-size="7.9" fill="#262626" stroke="#262626" stroke-width="0.18" text-anchor="end">10</text>
<line x1="239.60" y1="874.90" x2="241.80" y2="874.90" stroke="#151515" stroke-width="0.9"/>
<text x="238.20" y="877.70" font-size="7.9" fill="#262626" stroke="#262626" stroke-width="0.18" text-anchor="end">20</text>
<line x1="239.60" y1="847.70" x2="241.80" y2="847.70" stroke="#151515" stroke-width="0.9"/>
<text x="238.20" y="850.50" font-size="7.9" fill="#262626" stroke="#262626" stroke-width="0.18" text-anchor="end">30</text>
<line x1="239.60" y1="820.50" x2="241.80" y2="820.50" stroke="#151515" stroke-width="0.9"/>
<text x="238.20" y="823.30" font-size="7.9" fill="#262626" stroke="#262626" stroke-width="0.18" text-anchor="end">40</text>
<line x1="239.60" y1="793.30" x2="241.80" y2="793.30" stroke="#151515" stroke-width="0.9"/>
<text x="238.20" y="796.10" font-size="7.9" fill="#262626" stroke="#262626" stroke-width="0.18" text-anchor="end">50</text>
<line x1="239.60" y1="766.10" x2="241.80" y2="766.10" stroke="#151515" stroke-width="0.9"/>
<text x="238.20" y="768.90" font-size="7.9" fill="#262626" stroke="#262626" stroke-width="0.18" text-anchor="end">60</text>
<line x1="239.60" y1="738.90" x2="241.80" y2="738.90" stroke="#151515" stroke-width="0.9"/>
<text x="238.20" y="741.70" font-size="7.9" fill="#262626" stroke="#262626" stroke-width="0.18" text-anchor="end">70</text>
<line x1="239.60" y1="711.70" x2="241.80" y2="711.70" stroke="#151515" stroke-width="0.9"/>
<text x="238.20" y="714.50" font-size="7.9" fill="#262626" stroke="#262626" stroke-width="0.18" text-anchor="end">80</text>
<line x1="253.90" y1="929.30" x2="253.90" y2="931.50" stroke="#151515" stroke-width="0.9"/>
<text x="253.90" y="940.60" font-size="7.9" fill="#262626" stroke="#262626" stroke-width="0.18" text-anchor="middle">0.0</text>
<line x1="295.30" y1="929.30" x2="295.30" y2="931.50" stroke="#151515" stroke-width="0.9"/>
<text x="295.30" y="940.60" font-size="7.9" fill="#262626" stroke="#262626" stroke-width="0.18" text-anchor="middle">0.2</text>
<line x1="336.70" y1="929.30" x2="336.70" y2="931.50" stroke="#151515" stroke-width="0.9"/>
<text x="336.70" y="940.60" font-size="7.9" fill="#262626" stroke="#262626" stroke-width="0.18" text-anchor="middle">0.4</text>
<line x1="378.10" y1="929.30" x2="378.10" y2="931.50" stroke="#151515" stroke-width="0.9"/>
<text x="378.10" y="940.60" font-size="7.9" fill="#262626" stroke="#262626" stroke-width="0.18" text-anchor="middle">0.6</text>
<line x1="419.50" y1="929.30" x2="419.50" y2="931.50" stroke="#151515" stroke-width="0.9"/>
<text x="419.50" y="940.60" font-size="7.9" fill="#262626" stroke="#262626" stroke-width="0.18" text-anchor="middle">0.8</text>
<line x1="460.90" y1="929.30" x2="460.90" y2="931.50" stroke="#151515" stroke-width="0.9"/>
<text x="460.90" y="940.60" font-size="7.9" fill="#262626" stroke="#262626" stroke-width="0.18" text-anchor="middle">1.0</text>
<rect x="357.40" y="929.03" width="10.35" height="0.27" fill="#9d90c4"/>
<rect x="367.75" y="928.76" width="10.35" height="0.54" fill="#6878b3"/>
<rect x="367.75" y="928.48" width="10.35" height="0.27" fill="#9d90c4"/>
<rect x="378.10" y="927.67" width="10.35" height="1.63" fill="#6878b3"/>
<rect x="378.10" y="926.31" width="10.35" height="1.36" fill="#9d90c4"/>
<rect x="388.45" y="918.15" width="10.35" height="11.15" fill="#6878b3"/>
<rect x="388.45" y="915.56" width="10.35" height="2.58" fill="#9d90c4"/>
<rect x="398.80" y="887.41" width="10.35" height="41.89" fill="#6878b3"/>
<rect x="398.80" y="879.80" width="10.35" height="7.62" fill="#9d90c4"/>
<rect x="409.15" y="843.35" width="10.35" height="85.95" fill="#6878b3"/>
<rect x="409.15" y="841.17" width="10.35" height="2.18" fill="#8fc1e4"/>
<rect x="419.50" y="927.12" width="10.35" height="2.18" fill="#c27c7e"/>
<rect x="419.50" y="849.60" width="10.35" height="77.52" fill="#6878b3"/>
<rect x="419.50" y="833.56" width="10.35" height="16.05" fill="#8fc1e4"/>
<rect x="429.85" y="918.42" width="10.35" height="10.88" fill="#c27c7e"/>
<rect x="429.85" y="896.12" width="10.35" height="22.30" fill="#6878b3"/>
<rect x="429.85" y="894.21" width="10.35" height="1.90" fill="#9d90c4"/>
<rect x="440.20" y="926.31" width="10.35" height="2.99" fill="#c27c7e"/>
<rect x="440.20" y="898.02" width="10.35" height="28.29" fill="#f4ab8a"/>
<rect x="450.55" y="703.00" width="10.35" height="226.30" fill="#f4ab8a"/>
<rect x="367.75" y="928.76" width="10.35" height="0.54" fill="none" stroke="#262a3a" stroke-width="0.8"/>
<rect x="378.10" y="927.67" width="10.35" height="1.63" fill="none" stroke="#262a3a" stroke-width="0.8"/>
<rect x="388.45" y="918.15" width="10.35" height="11.15" fill="none" stroke="#262a3a" stroke-width="0.8"/>
<rect x="398.80" y="887.41" width="10.35" height="41.89" fill="none" stroke="#262a3a" stroke-width="0.8"/>
<rect x="409.15" y="841.17" width="10.35" height="88.13" fill="none" stroke="#262a3a" stroke-width="0.8"/>
<rect x="419.50" y="833.56" width="10.35" height="95.74" fill="none" stroke="#262a3a" stroke-width="0.8"/>
<rect x="429.85" y="896.12" width="10.35" height="33.18" fill="none" stroke="#262a3a" stroke-width="0.8"/>
<rect x="357.40" y="929.03" width="10.35" height="0.27" fill="none" stroke="#262236" stroke-width="0.8"/>
<rect x="367.75" y="928.48" width="10.35" height="0.82" fill="none" stroke="#262236" stroke-width="0.8"/>
<rect x="378.10" y="926.31" width="10.35" height="2.99" fill="none" stroke="#262236" stroke-width="0.8"/>
<rect x="388.45" y="915.56" width="10.35" height="13.74" fill="none" stroke="#262236" stroke-width="0.8"/>
<rect x="398.80" y="879.80" width="10.35" height="49.50" fill="none" stroke="#262236" stroke-width="0.8"/>
<rect x="409.15" y="843.35" width="10.35" height="85.95" fill="none" stroke="#262236" stroke-width="0.8"/>
<rect x="419.50" y="849.60" width="10.35" height="79.70" fill="none" stroke="#262236" stroke-width="0.8"/>
<rect x="429.85" y="894.21" width="10.35" height="35.09" fill="none" stroke="#262236" stroke-width="0.8"/>
<rect x="440.20" y="926.31" width="10.35" height="2.99" fill="none" stroke="#262236" stroke-width="0.8"/>
<rect x="419.50" y="927.12" width="10.35" height="2.18" fill="none" stroke="#5a3a30" stroke-width="0.8"/>
<rect x="429.85" y="918.42" width="10.35" height="10.88" fill="none" stroke="#5a3a30" stroke-width="0.8"/>
<rect x="440.20" y="898.02" width="10.35" height="31.28" fill="none" stroke="#5a3a30" stroke-width="0.8"/>
<rect x="450.55" y="703.00" width="10.35" height="226.30" fill="none" stroke="#5a3a30" stroke-width="0.8"/>
<text x="224.40" y="804.30" font-size="10.6" fill="#1c1c1c" stroke="#1c1c1c" stroke-width="0.18" text-anchor="middle" transform="rotate(-90 224.40 804.30)">Cell Proportion</text>
<text x="362.10" y="952.40" font-size="10.6" fill="#1c1c1c" stroke="#1c1c1c" stroke-width="0.18" text-anchor="middle">Cosine Similarity</text>
<line x1="512.30" y1="691.70" x2="512.30" y2="930.20" stroke="#151515" stroke-width="1.3"/>
<line x1="511.70" y1="929.60" x2="752.00" y2="929.60" stroke="#151515" stroke-width="1.3"/>
<line x1="510.10" y1="929.60" x2="512.30" y2="929.60" stroke="#151515" stroke-width="0.9"/>
<text x="508.70" y="932.40" font-size="7.9" fill="#262626" stroke="#262626" stroke-width="0.18" text-anchor="end">0</text>
<line x1="510.10" y1="888.10" x2="512.30" y2="888.10" stroke="#151515" stroke-width="0.9"/>
<text x="508.70" y="890.90" font-size="7.9" fill="#262626" stroke="#262626" stroke-width="0.18" text-anchor="end">10</text>
<line x1="510.10" y1="846.60" x2="512.30" y2="846.60" stroke="#151515" stroke-width="0.9"/>
<text x="508.70" y="849.40" font-size="7.9" fill="#262626" stroke="#262626" stroke-width="0.18" text-anchor="end">20</text>
<line x1="510.10" y1="805.10" x2="512.30" y2="805.10" stroke="#151515" stroke-width="0.9"/>
<text x="508.70" y="807.90" font-size="7.9" fill="#262626" stroke="#262626" stroke-width="0.18" text-anchor="end">30</text>
<line x1="510.10" y1="763.60" x2="512.30" y2="763.60" stroke="#151515" stroke-width="0.9"/>
<text x="508.70" y="766.40" font-size="7.9" fill="#262626" stroke="#262626" stroke-width="0.18" text-anchor="end">40</text>
<line x1="510.10" y1="722.10" x2="512.30" y2="722.10" stroke="#151515" stroke-width="0.9"/>
<text x="508.70" y="724.90" font-size="7.9" fill="#262626" stroke="#262626" stroke-width="0.18" text-anchor="end">50</text>
<line x1="523.30" y1="929.60" x2="523.30" y2="931.80" stroke="#151515" stroke-width="0.9"/>
<text x="523.30" y="940.30" font-size="7.9" fill="#262626" stroke="#262626" stroke-width="0.18" text-anchor="middle">0.0</text>
<line x1="564.82" y1="929.60" x2="564.82" y2="931.80" stroke="#151515" stroke-width="0.9"/>
<text x="564.82" y="940.30" font-size="7.9" fill="#262626" stroke="#262626" stroke-width="0.18" text-anchor="middle">0.2</text>
<line x1="606.34" y1="929.60" x2="606.34" y2="931.80" stroke="#151515" stroke-width="0.9"/>
<text x="606.34" y="940.30" font-size="7.9" fill="#262626" stroke="#262626" stroke-width="0.18" text-anchor="middle">0.4</text>
<line x1="647.86" y1="929.60" x2="647.86" y2="931.80" stroke="#151515" stroke-width="0.9"/>
<text x="647.86" y="940.30" font-size="7.9" fill="#262626" stroke="#262626" stroke-width="0.18" text-anchor="middle">0.6</text>
<line x1="689.38" y1="929.60" x2="689.38" y2="931.80" stroke="#151515" stroke-width="0.9"/>
<text x="689.38" y="940.30" font-size="7.9" fill="#262626" stroke="#262626" stroke-width="0.18" text-anchor="middle">0.8</text>
<line x1="730.90" y1="929.60" x2="730.90" y2="931.80" stroke="#151515" stroke-width="0.9"/>
<text x="730.90" y="940.30" font-size="7.9" fill="#262626" stroke="#262626" stroke-width="0.18" text-anchor="middle">1.0</text>
<rect x="595.96" y="928.77" width="10.38" height="0.83" fill="#9d90c4"/>
<rect x="606.34" y="928.77" width="10.38" height="0.83" fill="#6878b3"/>
<rect x="606.34" y="926.28" width="10.38" height="2.49" fill="#9d90c4"/>
<rect x="616.72" y="917.15" width="10.38" height="12.45" fill="#6878b3"/>
<rect x="616.72" y="892.25" width="10.38" height="24.90" fill="#9d90c4"/>
<rect x="627.10" y="864.45" width="10.38" height="65.15" fill="#6878b3"/>
<rect x="627.10" y="779.37" width="10.38" height="85.08" fill="#9d90c4"/>
<rect x="637.48" y="797.63" width="10.38" height="131.97" fill="#6878b3"/>
<rect x="637.48" y="771.49" width="10.38" height="26.14" fill="#9d90c4"/>
<rect x="647.86" y="873.16" width="10.38" height="56.44" fill="#6878b3"/>
<rect x="647.86" y="811.74" width="10.38" height="61.42" fill="#8fc1e4"/>
<rect x="658.24" y="922.55" width="10.38" height="7.05" fill="#6878b3"/>
<rect x="658.24" y="867.35" width="10.38" height="55.20" fill="#8fc1e4"/>
<rect x="668.62" y="929.19" width="10.38" height="0.41" fill="#6878b3"/>
<rect x="668.62" y="909.26" width="10.38" height="19.92" fill="#8fc1e4"/>
<rect x="679.00" y="928.36" width="10.38" height="1.25" fill="#c89a9a"/>
<rect x="679.00" y="926.70" width="10.38" height="1.66" fill="#f4ab8a"/>
<rect x="689.38" y="917.98" width="10.38" height="11.62" fill="#f4ab8a"/>
<rect x="699.76" y="900.97" width="10.38" height="28.63" fill="#f4ab8a"/>
<rect x="710.14" y="785.60" width="10.38" height="144.00" fill="#f4ab8a"/>
<rect x="720.52" y="703.01" width="10.38" height="226.59" fill="#f4ab8a"/>
<rect x="606.34" y="928.77" width="10.38" height="0.83" fill="none" stroke="#262a3a" stroke-width="0.8"/>
<rect x="616.72" y="917.15" width="10.38" height="12.45" fill="none" stroke="#262a3a" stroke-width="0.8"/>
<rect x="627.10" y="864.45" width="10.38" height="65.15" fill="none" stroke="#262a3a" stroke-width="0.8"/>
<rect x="637.48" y="797.63" width="10.38" height="131.97" fill="none" stroke="#262a3a" stroke-width="0.8"/>
<rect x="647.86" y="811.74" width="10.38" height="117.86" fill="none" stroke="#262a3a" stroke-width="0.8"/>
<rect x="658.24" y="867.35" width="10.38" height="62.25" fill="none" stroke="#262a3a" stroke-width="0.8"/>
<rect x="668.62" y="909.26" width="10.38" height="20.34" fill="none" stroke="#262a3a" stroke-width="0.8"/>
<rect x="679.00" y="928.36" width="10.38" height="1.25" fill="none" stroke="#262a3a" stroke-width="0.8"/>
<rect x="595.96" y="928.77" width="10.38" height="0.83" fill="none" stroke="#262236" stroke-width="0.8"/>
<rect x="606.34" y="926.28" width="10.38" height="3.32" fill="none" stroke="#262236" stroke-width="0.8"/>
<rect x="616.72" y="892.25" width="10.38" height="37.35" fill="none" stroke="#262236" stroke-width="0.8"/>
<rect x="627.10" y="779.37" width="10.38" height="150.23" fill="none" stroke="#262236" stroke-width="0.8"/>
<rect x="637.48" y="771.49" width="10.38" height="158.12" fill="none" stroke="#262236" stroke-width="0.8"/>
<rect x="647.86" y="873.16" width="10.38" height="56.44" fill="none" stroke="#262236" stroke-width="0.8"/>
<rect x="658.24" y="922.55" width="10.38" height="7.05" fill="none" stroke="#262236" stroke-width="0.8"/>
<rect x="668.62" y="929.19" width="10.38" height="0.41" fill="none" stroke="#262236" stroke-width="0.8"/>
<rect x="679.00" y="926.70" width="10.38" height="2.90" fill="none" stroke="#5a3a30" stroke-width="0.8"/>
<rect x="689.38" y="917.98" width="10.38" height="11.62" fill="none" stroke="#5a3a30" stroke-width="0.8"/>
<rect x="699.76" y="900.97" width="10.38" height="28.63" fill="none" stroke="#5a3a30" stroke-width="0.8"/>
<rect x="710.14" y="785.60" width="10.38" height="144.00" fill="none" stroke="#5a3a30" stroke-width="0.8"/>
<rect x="720.52" y="703.01" width="10.38" height="226.59" fill="none" stroke="#5a3a30" stroke-width="0.8"/>
<text x="493.00" y="805.20" font-size="10.6" fill="#1c1c1c" stroke="#1c1c1c" stroke-width="0.18" text-anchor="middle" transform="rotate(-90 493.00 805.20)">Cell Proportion</text>
<text x="631.80" y="952.30" font-size="10.6" fill="#1c1c1c" stroke="#1c1c1c" stroke-width="0.18" text-anchor="middle">Cosine Similarity</text>
<rect x="288.4" y="964.2" width="423.6" height="34.2" rx="5" fill="#e9e9ea"/>
<rect x="316.6" y="977.4" width="27.2" height="9.2" fill="#8fc1e4" stroke="#3a3a3a" stroke-width="0.8"/>
<text x="386.00" y="974.60" font-size="10.6" fill="#1c1c1c" stroke="#1c1c1c" stroke-width="0.18" text-anchor="middle">fast_ucell</text>
<text x="386.00" y="984.80" font-size="9.8" font-style="italic" fill="#7c7c7c" stroke="#7c7c7c" stroke-width="0.18" text-anchor="middle">vs.</text>
<text x="386.00" y="996.00" font-size="10.6" fill="#1c1c1c" stroke="#1c1c1c" stroke-width="0.18" text-anchor="middle">fast_score_gene</text>
<rect x="461.6" y="977.4" width="27.2" height="9.2" fill="#9d90c4" stroke="#3a3a3a" stroke-width="0.8"/>
<text x="532.30" y="974.60" font-size="10.6" fill="#1c1c1c" stroke="#1c1c1c" stroke-width="0.18" text-anchor="middle">fast_score_gene</text>
<text x="532.30" y="984.80" font-size="9.8" font-style="italic" fill="#7c7c7c" stroke="#7c7c7c" stroke-width="0.18" text-anchor="middle">vs.</text>
<text x="532.30" y="996.00" font-size="10.6" fill="#1c1c1c" stroke="#1c1c1c" stroke-width="0.18" text-anchor="middle">AUCell</text>
<rect x="609.1" y="977.4" width="27.2" height="9.2" fill="#f0a283" stroke="#3a3a3a" stroke-width="0.8"/>
<text x="665.90" y="974.60" font-size="10.6" fill="#1c1c1c" stroke="#1c1c1c" stroke-width="0.18" text-anchor="middle">fast_ucell</text>
<text x="665.90" y="984.80" font-size="9.8" font-style="italic" fill="#7c7c7c" stroke="#7c7c7c" stroke-width="0.18" text-anchor="middle">vs.</text>
<text x="665.90" y="996.00" font-size="10.6" fill="#1c1c1c" stroke="#1c1c1c" stroke-width="0.18" text-anchor="middle">AUCell</text>
</svg></body></html>
